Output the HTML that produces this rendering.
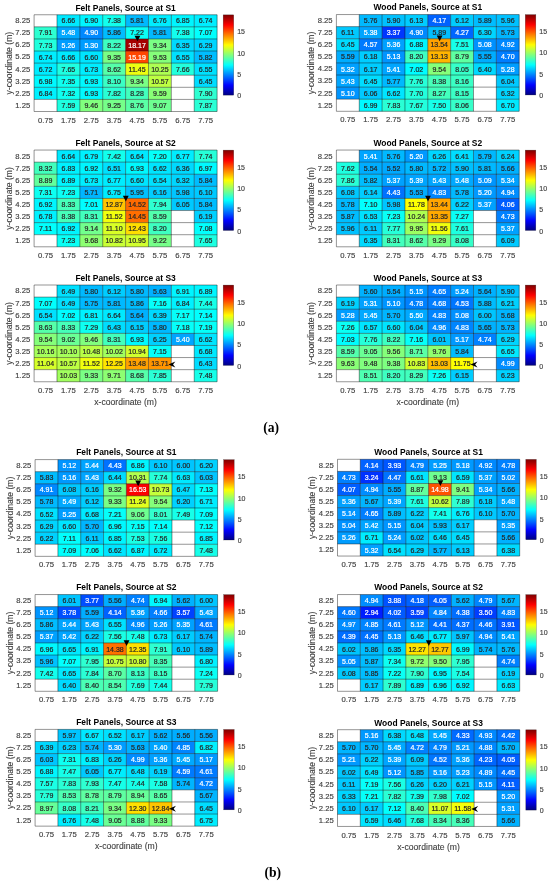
<!DOCTYPE html>
<html lang="en"><head><meta charset="utf-8"><title>Heatmaps</title>
<style>
html,body{margin:0;padding:0;background:#fff;}
body{width:550px;height:883px;overflow:hidden;}
svg{display:block;font-family:"Liberation Sans",Arial,sans-serif;}
.t{font-size:7.7px;fill:#404040;stroke:#404040;stroke-width:.15px;}
.c{font-size:7.0px;text-anchor:middle;fill:#262626;stroke:#262626;stroke-width:.2px;}
.w{fill:#fff;stroke:#fff;}
.ti{font-size:8.45px;font-weight:bold;text-anchor:middle;fill:#000;}
.lb{font-size:8.6px;text-anchor:middle;fill:#404040;stroke:#404040;stroke-width:.12px;}
.cap{font-family:"Liberation Serif","DejaVu Serif",serif;font-size:13.6px;font-weight:bold;text-anchor:middle;fill:#000;}
.g{stroke:#000;stroke-opacity:.6;stroke-width:.7;fill:none;}
</style></head><body>
<svg width="550" height="883" viewBox="0 0 550 883">
<defs><linearGradient id="jet" x1="0" y1="0" x2="0" y2="1"><stop offset="0.0000" stop-color="#810000"/><stop offset="0.0312" stop-color="#9d0000"/><stop offset="0.0625" stop-color="#bd0000"/><stop offset="0.0938" stop-color="#dd0000"/><stop offset="0.1250" stop-color="#fd0000"/><stop offset="0.1562" stop-color="#ff1e00"/><stop offset="0.1875" stop-color="#ff3e00"/><stop offset="0.2188" stop-color="#ff5e00"/><stop offset="0.2500" stop-color="#ff7e00"/><stop offset="0.2812" stop-color="#ff9d00"/><stop offset="0.3125" stop-color="#ffbd00"/><stop offset="0.3438" stop-color="#ffdd00"/><stop offset="0.3750" stop-color="#fffd00"/><stop offset="0.4062" stop-color="#e1ff1e"/><stop offset="0.4375" stop-color="#c1ff3e"/><stop offset="0.4688" stop-color="#a1ff5e"/><stop offset="0.5000" stop-color="#81ff7e"/><stop offset="0.5312" stop-color="#62ff9d"/><stop offset="0.5625" stop-color="#42ffbd"/><stop offset="0.5938" stop-color="#22ffdd"/><stop offset="0.6250" stop-color="#02fffd"/><stop offset="0.6562" stop-color="#00e1ff"/><stop offset="0.6875" stop-color="#00c1ff"/><stop offset="0.7188" stop-color="#00a1ff"/><stop offset="0.7500" stop-color="#0081ff"/><stop offset="0.7812" stop-color="#0062ff"/><stop offset="0.8125" stop-color="#0042ff"/><stop offset="0.8438" stop-color="#0022ff"/><stop offset="0.8750" stop-color="#0002ff"/><stop offset="0.9062" stop-color="#0000e1"/><stop offset="0.9375" stop-color="#0000c1"/><stop offset="0.9688" stop-color="#0000a1"/><stop offset="1.0000" stop-color="#000081"/></linearGradient></defs>
<g>
<text class="ti" x="125.6" y="10.55">Felt Panels, Source at S1</text>
<rect x="34.1" y="14.75" width="22.93" height="12.14" fill="#ffffff"/>
<rect x="56.98" y="14.75" width="22.93" height="12.14" fill="#00e9ff"/>
<rect x="79.85" y="14.75" width="22.93" height="12.14" fill="#00f5ff"/>
<rect x="102.72" y="14.75" width="22.93" height="12.14" fill="#12ffed"/>
<rect x="125.6" y="14.75" width="22.93" height="12.14" fill="#00b9ff"/>
<rect x="148.47" y="14.75" width="22.93" height="12.14" fill="#00edff"/>
<rect x="171.35" y="14.75" width="22.93" height="12.14" fill="#00f5ff"/>
<rect x="194.22" y="14.75" width="22.93" height="12.14" fill="#00edff"/>
<rect x="34.1" y="26.84" width="22.93" height="12.14" fill="#2effd1"/>
<rect x="56.98" y="26.84" width="22.93" height="12.14" fill="#00a9ff"/>
<rect x="79.85" y="26.84" width="22.93" height="12.14" fill="#0089ff"/>
<rect x="102.72" y="26.84" width="22.93" height="12.14" fill="#00bdff"/>
<rect x="125.6" y="26.84" width="22.93" height="12.14" fill="#0afff5"/>
<rect x="148.47" y="26.84" width="22.93" height="12.14" fill="#00b9ff"/>
<rect x="171.35" y="26.84" width="22.93" height="12.14" fill="#12ffed"/>
<rect x="194.22" y="26.84" width="22.93" height="12.14" fill="#02fffd"/>
<rect x="34.1" y="38.94" width="22.93" height="12.14" fill="#22ffdd"/>
<rect x="56.98" y="38.94" width="22.93" height="12.14" fill="#009dff"/>
<rect x="79.85" y="38.94" width="22.93" height="12.14" fill="#009dff"/>
<rect x="102.72" y="38.94" width="22.93" height="12.14" fill="#3effc1"/>
<rect x="125.6" y="38.94" width="22.93" height="12.14" fill="#a50000"/>
<rect x="148.47" y="38.94" width="22.93" height="12.14" fill="#7aff85"/>
<rect x="171.35" y="38.94" width="22.93" height="12.14" fill="#00d9ff"/>
<rect x="194.22" y="38.94" width="22.93" height="12.14" fill="#00d5ff"/>
<rect x="34.1" y="51.03" width="22.93" height="12.14" fill="#00edff"/>
<rect x="56.98" y="51.03" width="22.93" height="12.14" fill="#00e9ff"/>
<rect x="79.85" y="51.03" width="22.93" height="12.14" fill="#00e5ff"/>
<rect x="102.72" y="51.03" width="22.93" height="12.14" fill="#7aff85"/>
<rect x="125.6" y="51.03" width="22.93" height="12.14" fill="#ff4600"/>
<rect x="148.47" y="51.03" width="22.93" height="12.14" fill="#85ff7a"/>
<rect x="171.35" y="51.03" width="22.93" height="12.14" fill="#00e1ff"/>
<rect x="194.22" y="51.03" width="22.93" height="12.14" fill="#00bdff"/>
<rect x="34.1" y="63.12" width="22.93" height="12.14" fill="#00edff"/>
<rect x="56.98" y="63.12" width="22.93" height="12.14" fill="#1effe1"/>
<rect x="79.85" y="63.12" width="22.93" height="12.14" fill="#00edff"/>
<rect x="102.72" y="63.12" width="22.93" height="12.14" fill="#56ffa9"/>
<rect x="125.6" y="63.12" width="22.93" height="12.14" fill="#edff12"/>
<rect x="148.47" y="63.12" width="22.93" height="12.14" fill="#adff52"/>
<rect x="171.35" y="63.12" width="22.93" height="12.14" fill="#22ffdd"/>
<rect x="194.22" y="63.12" width="22.93" height="12.14" fill="#00e1ff"/>
<rect x="34.1" y="75.22" width="22.93" height="12.14" fill="#00f9ff"/>
<rect x="56.98" y="75.22" width="22.93" height="12.14" fill="#0efff1"/>
<rect x="79.85" y="75.22" width="22.93" height="12.14" fill="#00f9ff"/>
<rect x="102.72" y="75.22" width="22.93" height="12.14" fill="#3affc5"/>
<rect x="125.6" y="75.22" width="22.93" height="12.14" fill="#7aff85"/>
<rect x="148.47" y="75.22" width="22.93" height="12.14" fill="#bdff42"/>
<rect x="171.35" y="75.22" width="22.93" height="12.14" fill="#ffffff"/>
<rect x="194.22" y="75.22" width="22.93" height="12.14" fill="#00ddff"/>
<rect x="34.1" y="87.31" width="22.93" height="12.14" fill="#00f1ff"/>
<rect x="56.98" y="87.31" width="22.93" height="12.14" fill="#0efff1"/>
<rect x="79.85" y="87.31" width="22.93" height="12.14" fill="#00f9ff"/>
<rect x="102.72" y="87.31" width="22.93" height="12.14" fill="#2affd5"/>
<rect x="125.6" y="87.31" width="22.93" height="12.14" fill="#42ffbd"/>
<rect x="148.47" y="87.31" width="22.93" height="12.14" fill="#89ff76"/>
<rect x="171.35" y="87.31" width="22.93" height="12.14" fill="#ffffff"/>
<rect x="194.22" y="87.31" width="22.93" height="12.14" fill="#2effd1"/>
<rect x="34.1" y="99.41" width="22.93" height="12.14" fill="#ffffff"/>
<rect x="56.98" y="99.41" width="22.93" height="12.14" fill="#1effe1"/>
<rect x="79.85" y="99.41" width="22.93" height="12.14" fill="#81ff7e"/>
<rect x="102.72" y="99.41" width="22.93" height="12.14" fill="#76ff89"/>
<rect x="125.6" y="99.41" width="22.93" height="12.14" fill="#5affa5"/>
<rect x="148.47" y="99.41" width="22.93" height="12.14" fill="#6eff91"/>
<rect x="171.35" y="99.41" width="22.93" height="12.14" fill="#ffffff"/>
<rect x="194.22" y="99.41" width="22.93" height="12.14" fill="#2affd5"/>
<path class="g" d="M34.1 14.75V111.5M56.98 14.75V111.5M79.85 14.75V111.5M102.72 14.75V111.5M125.6 14.75V111.5M148.47 14.75V111.5M171.35 14.75V111.5M194.22 14.75V111.5M217.1 14.75V111.5M34.1 14.75H217.1M34.1 26.84H217.1M34.1 38.94H217.1M34.1 51.03H217.1M34.1 63.12H217.1M34.1 75.22H217.1M34.1 87.31H217.1M34.1 99.41H217.1M34.1 111.5H217.1"/>
<text class="c" x="68.41" y="23.35">6.66</text>
<text class="c" x="91.29" y="23.35">6.90</text>
<text class="c" x="114.16" y="23.35">7.38</text>
<text class="c" x="137.04" y="23.35">5.81</text>
<text class="c" x="159.91" y="23.35">6.76</text>
<text class="c" x="182.79" y="23.35">6.85</text>
<text class="c" x="205.66" y="23.35">6.74</text>
<text class="c" x="45.54" y="35.44">7.91</text>
<text class="c w" x="68.41" y="35.44">5.48</text>
<text class="c w" x="91.29" y="35.44">4.90</text>
<text class="c" x="114.16" y="35.44">5.86</text>
<text class="c" x="137.04" y="35.44">7.22</text>
<text class="c" x="159.91" y="35.44">5.81</text>
<text class="c" x="182.79" y="35.44">7.38</text>
<text class="c" x="205.66" y="35.44">7.07</text>
<text class="c" x="45.54" y="47.53">7.73</text>
<text class="c w" x="68.41" y="47.53">5.26</text>
<text class="c w" x="91.29" y="47.53">5.30</text>
<text class="c" x="114.16" y="47.53">8.22</text>
<text class="c w" x="137.04" y="47.53">18.17</text>
<text class="c" x="159.91" y="47.53">9.34</text>
<text class="c" x="182.79" y="47.53">6.35</text>
<text class="c" x="205.66" y="47.53">6.29</text>
<text class="c" x="45.54" y="59.63">6.74</text>
<text class="c" x="68.41" y="59.63">6.66</text>
<text class="c" x="91.29" y="59.63">6.60</text>
<text class="c" x="114.16" y="59.63">9.35</text>
<text class="c w" x="137.04" y="59.63">15.19</text>
<text class="c" x="159.91" y="59.63">9.53</text>
<text class="c" x="182.79" y="59.63">6.55</text>
<text class="c" x="205.66" y="59.63">5.82</text>
<text class="c" x="45.54" y="71.72">6.72</text>
<text class="c" x="68.41" y="71.72">7.65</text>
<text class="c" x="91.29" y="71.72">6.73</text>
<text class="c" x="114.16" y="71.72">8.62</text>
<text class="c" x="137.04" y="71.72">11.45</text>
<text class="c" x="159.91" y="71.72">10.25</text>
<text class="c" x="182.79" y="71.72">7.66</text>
<text class="c" x="205.66" y="71.72">6.55</text>
<text class="c" x="45.54" y="83.82">6.98</text>
<text class="c" x="68.41" y="83.82">7.35</text>
<text class="c" x="91.29" y="83.82">6.93</text>
<text class="c" x="114.16" y="83.82">8.10</text>
<text class="c" x="137.04" y="83.82">9.34</text>
<text class="c" x="159.91" y="83.82">10.57</text>
<text class="c" x="205.66" y="83.82">6.45</text>
<text class="c" x="45.54" y="95.91">6.84</text>
<text class="c" x="68.41" y="95.91">7.32</text>
<text class="c" x="91.29" y="95.91">6.93</text>
<text class="c" x="114.16" y="95.91">7.82</text>
<text class="c" x="137.04" y="95.91">8.28</text>
<text class="c" x="159.91" y="95.91">9.59</text>
<text class="c" x="205.66" y="95.91">7.90</text>
<text class="c" x="68.41" y="108">7.59</text>
<text class="c" x="91.29" y="108">9.46</text>
<text class="c" x="114.16" y="108">9.25</text>
<text class="c" x="137.04" y="108">8.76</text>
<text class="c" x="159.91" y="108">9.07</text>
<text class="c" x="205.66" y="108">7.87</text>
<text class="t" text-anchor="end" x="30.3" y="23.2">8.25</text>
<text class="t" text-anchor="end" x="30.3" y="35.29">7.25</text>
<text class="t" text-anchor="end" x="30.3" y="47.38">6.25</text>
<text class="t" text-anchor="end" x="30.3" y="59.48">5.25</text>
<text class="t" text-anchor="end" x="30.3" y="71.57">4.25</text>
<text class="t" text-anchor="end" x="30.3" y="83.67">3.25</text>
<text class="t" text-anchor="end" x="30.3" y="95.76">2.25</text>
<text class="t" text-anchor="end" x="30.3" y="107.85">1.25</text>
<text class="t" text-anchor="middle" x="45.54" y="122.6">0.75</text>
<text class="t" text-anchor="middle" x="68.41" y="122.6">1.75</text>
<text class="t" text-anchor="middle" x="91.29" y="122.6">2.75</text>
<text class="t" text-anchor="middle" x="114.16" y="122.6">3.75</text>
<text class="t" text-anchor="middle" x="137.04" y="122.6">4.75</text>
<text class="t" text-anchor="middle" x="159.91" y="122.6">5.75</text>
<text class="t" text-anchor="middle" x="182.79" y="122.6">6.75</text>
<text class="t" text-anchor="middle" x="205.66" y="122.6">7.75</text>
<text class="lb" transform="translate(11.5 63.12) rotate(-90)">y-coordinate (m)</text>
<path d="M134.54 35.64L140.34 35.64L137.44 41.34Z" fill="#000"/>
<rect x="223.2" y="14.85" width="10.5" height="80.3" fill="url(#jet)" stroke="#000" stroke-opacity=".45" stroke-width=".5"/>
<text class="t" style="font-size:7px" x="237.2" y="98.25">0</text>
<text class="t" style="font-size:7px" x="237.2" y="76.95">5</text>
<text class="t" style="font-size:7px" x="237.2" y="55.65">10</text>
<text class="t" style="font-size:7px" x="237.2" y="34.35">15</text>
</g>
<g>
<text class="ti" x="427.8" y="10.35">Wood Panels, Source at S1</text>
<rect x="336.4" y="14.55" width="22.9" height="12.14" fill="#ffffff"/>
<rect x="359.25" y="14.55" width="22.9" height="12.14" fill="#00b9ff"/>
<rect x="382.1" y="14.55" width="22.9" height="12.14" fill="#00c1ff"/>
<rect x="404.95" y="14.55" width="22.9" height="12.14" fill="#00cdff"/>
<rect x="427.8" y="14.55" width="22.9" height="12.14" fill="#0062ff"/>
<rect x="450.65" y="14.55" width="22.9" height="12.14" fill="#00cdff"/>
<rect x="473.5" y="14.55" width="22.9" height="12.14" fill="#00bdff"/>
<rect x="496.35" y="14.55" width="22.9" height="12.14" fill="#00c1ff"/>
<rect x="336.4" y="26.64" width="22.9" height="12.14" fill="#00c9ff"/>
<rect x="359.25" y="26.64" width="22.9" height="12.14" fill="#00a5ff"/>
<rect x="382.1" y="26.64" width="22.9" height="12.14" fill="#0036ff"/>
<rect x="404.95" y="26.64" width="22.9" height="12.14" fill="#0089ff"/>
<rect x="427.8" y="26.64" width="22.9" height="12.14" fill="#00bdff"/>
<rect x="450.65" y="26.64" width="22.9" height="12.14" fill="#0066ff"/>
<rect x="473.5" y="26.64" width="22.9" height="12.14" fill="#00d5ff"/>
<rect x="496.35" y="26.64" width="22.9" height="12.14" fill="#00b5ff"/>
<rect x="336.4" y="38.74" width="22.9" height="12.14" fill="#00ddff"/>
<rect x="359.25" y="38.74" width="22.9" height="12.14" fill="#007aff"/>
<rect x="382.1" y="38.74" width="22.9" height="12.14" fill="#00a1ff"/>
<rect x="404.95" y="38.74" width="22.9" height="12.14" fill="#00f5ff"/>
<rect x="427.8" y="38.74" width="22.9" height="12.14" fill="#ffa100"/>
<rect x="450.65" y="38.74" width="22.9" height="12.14" fill="#16ffe9"/>
<rect x="473.5" y="38.74" width="22.9" height="12.14" fill="#0091ff"/>
<rect x="496.35" y="38.74" width="22.9" height="12.14" fill="#0089ff"/>
<rect x="336.4" y="50.83" width="22.9" height="12.14" fill="#00adff"/>
<rect x="359.25" y="50.83" width="22.9" height="12.14" fill="#00cdff"/>
<rect x="382.1" y="50.83" width="22.9" height="12.14" fill="#0095ff"/>
<rect x="404.95" y="50.83" width="22.9" height="12.14" fill="#3effc1"/>
<rect x="427.8" y="50.83" width="22.9" height="12.14" fill="#ffb500"/>
<rect x="450.65" y="50.83" width="22.9" height="12.14" fill="#5effa1"/>
<rect x="473.5" y="50.83" width="22.9" height="12.14" fill="#00adff"/>
<rect x="496.35" y="50.83" width="22.9" height="12.14" fill="#007eff"/>
<rect x="336.4" y="62.92" width="22.9" height="12.14" fill="#00a1ff"/>
<rect x="359.25" y="62.92" width="22.9" height="12.14" fill="#00cdff"/>
<rect x="382.1" y="62.92" width="22.9" height="12.14" fill="#00a5ff"/>
<rect x="404.95" y="62.92" width="22.9" height="12.14" fill="#00fdff"/>
<rect x="427.8" y="62.92" width="22.9" height="12.14" fill="#85ff7a"/>
<rect x="450.65" y="62.92" width="22.9" height="12.14" fill="#36ffc9"/>
<rect x="473.5" y="62.92" width="22.9" height="12.14" fill="#00d9ff"/>
<rect x="496.35" y="62.92" width="22.9" height="12.14" fill="#009dff"/>
<rect x="336.4" y="75.02" width="22.9" height="12.14" fill="#00a5ff"/>
<rect x="359.25" y="75.02" width="22.9" height="12.14" fill="#00ddff"/>
<rect x="382.1" y="75.02" width="22.9" height="12.14" fill="#00b9ff"/>
<rect x="404.95" y="75.02" width="22.9" height="12.14" fill="#26ffd9"/>
<rect x="427.8" y="75.02" width="22.9" height="12.14" fill="#46ffb9"/>
<rect x="450.65" y="75.02" width="22.9" height="12.14" fill="#3affc5"/>
<rect x="473.5" y="75.02" width="22.9" height="12.14" fill="#ffffff"/>
<rect x="496.35" y="75.02" width="22.9" height="12.14" fill="#00c9ff"/>
<rect x="336.4" y="87.11" width="22.9" height="12.14" fill="#0095ff"/>
<rect x="359.25" y="87.11" width="22.9" height="12.14" fill="#00c9ff"/>
<rect x="382.1" y="87.11" width="22.9" height="12.14" fill="#00e5ff"/>
<rect x="404.95" y="87.11" width="22.9" height="12.14" fill="#22ffdd"/>
<rect x="427.8" y="87.11" width="22.9" height="12.14" fill="#42ffbd"/>
<rect x="450.65" y="87.11" width="22.9" height="12.14" fill="#3affc5"/>
<rect x="473.5" y="87.11" width="22.9" height="12.14" fill="#ffffff"/>
<rect x="496.35" y="87.11" width="22.9" height="12.14" fill="#00d5ff"/>
<rect x="336.4" y="99.21" width="22.9" height="12.14" fill="#ffffff"/>
<rect x="359.25" y="99.21" width="22.9" height="12.14" fill="#00f9ff"/>
<rect x="382.1" y="99.21" width="22.9" height="12.14" fill="#2affd5"/>
<rect x="404.95" y="99.21" width="22.9" height="12.14" fill="#22ffdd"/>
<rect x="427.8" y="99.21" width="22.9" height="12.14" fill="#16ffe9"/>
<rect x="450.65" y="99.21" width="22.9" height="12.14" fill="#36ffc9"/>
<rect x="473.5" y="99.21" width="22.9" height="12.14" fill="#ffffff"/>
<rect x="496.35" y="99.21" width="22.9" height="12.14" fill="#00e9ff"/>
<path class="g" d="M336.4 14.55V111.3M359.25 14.55V111.3M382.1 14.55V111.3M404.95 14.55V111.3M427.8 14.55V111.3M450.65 14.55V111.3M473.5 14.55V111.3M496.35 14.55V111.3M519.2 14.55V111.3M336.4 14.55H519.2M336.4 26.64H519.2M336.4 38.74H519.2M336.4 50.83H519.2M336.4 62.92H519.2M336.4 75.02H519.2M336.4 87.11H519.2M336.4 99.21H519.2M336.4 111.3H519.2"/>
<text class="c" x="370.67" y="23.15">5.76</text>
<text class="c" x="393.52" y="23.15">5.90</text>
<text class="c" x="416.38" y="23.15">6.13</text>
<text class="c w" x="439.22" y="23.15">4.17</text>
<text class="c" x="462.07" y="23.15">6.12</text>
<text class="c" x="484.92" y="23.15">5.89</text>
<text class="c" x="507.77" y="23.15">5.96</text>
<text class="c" x="347.82" y="35.24">6.11</text>
<text class="c w" x="370.67" y="35.24">5.38</text>
<text class="c w" x="393.52" y="35.24">3.37</text>
<text class="c w" x="416.38" y="35.24">4.90</text>
<text class="c" x="439.22" y="35.24">5.89</text>
<text class="c w" x="462.07" y="35.24">4.27</text>
<text class="c" x="484.92" y="35.24">6.30</text>
<text class="c" x="507.77" y="35.24">5.73</text>
<text class="c" x="347.82" y="47.33">6.45</text>
<text class="c w" x="370.67" y="47.33">4.57</text>
<text class="c w" x="393.52" y="47.33">5.36</text>
<text class="c" x="416.38" y="47.33">6.88</text>
<text class="c" x="439.22" y="47.33">13.54</text>
<text class="c" x="462.07" y="47.33">7.51</text>
<text class="c w" x="484.92" y="47.33">5.08</text>
<text class="c w" x="507.77" y="47.33">4.92</text>
<text class="c" x="347.82" y="59.43">5.59</text>
<text class="c" x="370.67" y="59.43">6.18</text>
<text class="c w" x="393.52" y="59.43">5.13</text>
<text class="c" x="416.38" y="59.43">8.20</text>
<text class="c" x="439.22" y="59.43">13.13</text>
<text class="c" x="462.07" y="59.43">8.79</text>
<text class="c" x="484.92" y="59.43">5.55</text>
<text class="c w" x="507.77" y="59.43">4.70</text>
<text class="c w" x="347.82" y="71.52">5.32</text>
<text class="c" x="370.67" y="71.52">6.17</text>
<text class="c w" x="393.52" y="71.52">5.41</text>
<text class="c" x="416.38" y="71.52">7.02</text>
<text class="c" x="439.22" y="71.52">9.54</text>
<text class="c" x="462.07" y="71.52">8.05</text>
<text class="c" x="484.92" y="71.52">6.40</text>
<text class="c w" x="507.77" y="71.52">5.28</text>
<text class="c w" x="347.82" y="83.62">5.43</text>
<text class="c" x="370.67" y="83.62">6.45</text>
<text class="c" x="393.52" y="83.62">5.77</text>
<text class="c" x="416.38" y="83.62">7.76</text>
<text class="c" x="439.22" y="83.62">8.38</text>
<text class="c" x="462.07" y="83.62">8.16</text>
<text class="c" x="507.77" y="83.62">6.04</text>
<text class="c w" x="347.82" y="95.71">5.10</text>
<text class="c" x="370.67" y="95.71">6.06</text>
<text class="c" x="393.52" y="95.71">6.62</text>
<text class="c" x="416.38" y="95.71">7.70</text>
<text class="c" x="439.22" y="95.71">8.27</text>
<text class="c" x="462.07" y="95.71">8.15</text>
<text class="c" x="507.77" y="95.71">6.32</text>
<text class="c" x="370.67" y="107.8">6.99</text>
<text class="c" x="393.52" y="107.8">7.83</text>
<text class="c" x="416.38" y="107.8">7.67</text>
<text class="c" x="439.22" y="107.8">7.50</text>
<text class="c" x="462.07" y="107.8">8.06</text>
<text class="c" x="507.77" y="107.8">6.70</text>
<text class="t" text-anchor="end" x="332.6" y="23">8.25</text>
<text class="t" text-anchor="end" x="332.6" y="35.09">7.25</text>
<text class="t" text-anchor="end" x="332.6" y="47.18">6.25</text>
<text class="t" text-anchor="end" x="332.6" y="59.28">5.25</text>
<text class="t" text-anchor="end" x="332.6" y="71.37">4.25</text>
<text class="t" text-anchor="end" x="332.6" y="83.47">3.25</text>
<text class="t" text-anchor="end" x="332.6" y="95.56">2.25</text>
<text class="t" text-anchor="end" x="332.6" y="107.65">1.25</text>
<text class="t" text-anchor="middle" x="347.82" y="122.4">0.75</text>
<text class="t" text-anchor="middle" x="370.67" y="122.4">1.75</text>
<text class="t" text-anchor="middle" x="393.52" y="122.4">2.75</text>
<text class="t" text-anchor="middle" x="416.38" y="122.4">3.75</text>
<text class="t" text-anchor="middle" x="439.22" y="122.4">4.75</text>
<text class="t" text-anchor="middle" x="462.07" y="122.4">5.75</text>
<text class="t" text-anchor="middle" x="484.92" y="122.4">6.75</text>
<text class="t" text-anchor="middle" x="507.77" y="122.4">7.75</text>
<text class="lb" transform="translate(313.8 62.92) rotate(-90)">y-coordinate (m)</text>
<path d="M436.72 35.44L442.52 35.44L439.62 41.14Z" fill="#000"/>
<rect x="525.3" y="14.65" width="10.5" height="80.3" fill="url(#jet)" stroke="#000" stroke-opacity=".45" stroke-width=".5"/>
<text class="t" style="font-size:7px" x="539.3" y="98.05">0</text>
<text class="t" style="font-size:7px" x="539.3" y="76.75">5</text>
<text class="t" style="font-size:7px" x="539.3" y="55.45">10</text>
<text class="t" style="font-size:7px" x="539.3" y="34.15">15</text>
</g>
<g>
<text class="ti" x="125.6" y="145.85">Felt Panels, Source at S2</text>
<rect x="34.1" y="150.05" width="22.93" height="12.14" fill="#ffffff"/>
<rect x="56.98" y="150.05" width="22.93" height="12.14" fill="#00e9ff"/>
<rect x="79.85" y="150.05" width="22.93" height="12.14" fill="#00f1ff"/>
<rect x="102.72" y="150.05" width="22.93" height="12.14" fill="#12ffed"/>
<rect x="125.6" y="150.05" width="22.93" height="12.14" fill="#00e9ff"/>
<rect x="148.47" y="150.05" width="22.93" height="12.14" fill="#06fff9"/>
<rect x="171.35" y="150.05" width="22.93" height="12.14" fill="#00edff"/>
<rect x="194.22" y="150.05" width="22.93" height="12.14" fill="#26ffd9"/>
<rect x="34.1" y="162.14" width="22.93" height="12.14" fill="#42ffbd"/>
<rect x="56.98" y="162.14" width="22.93" height="12.14" fill="#00f1ff"/>
<rect x="79.85" y="162.14" width="22.93" height="12.14" fill="#00f5ff"/>
<rect x="102.72" y="162.14" width="22.93" height="12.14" fill="#00e1ff"/>
<rect x="125.6" y="162.14" width="22.93" height="12.14" fill="#00f9ff"/>
<rect x="148.47" y="162.14" width="22.93" height="12.14" fill="#00e5ff"/>
<rect x="171.35" y="162.14" width="22.93" height="12.14" fill="#00d9ff"/>
<rect x="194.22" y="162.14" width="22.93" height="12.14" fill="#00f9ff"/>
<rect x="34.1" y="174.24" width="22.93" height="12.14" fill="#62ff9d"/>
<rect x="56.98" y="174.24" width="22.93" height="12.14" fill="#00f5ff"/>
<rect x="79.85" y="174.24" width="22.93" height="12.14" fill="#00edff"/>
<rect x="102.72" y="174.24" width="22.93" height="12.14" fill="#00edff"/>
<rect x="125.6" y="174.24" width="22.93" height="12.14" fill="#00e5ff"/>
<rect x="148.47" y="174.24" width="22.93" height="12.14" fill="#00e1ff"/>
<rect x="171.35" y="174.24" width="22.93" height="12.14" fill="#00d5ff"/>
<rect x="194.22" y="174.24" width="22.93" height="12.14" fill="#00bdff"/>
<rect x="34.1" y="186.33" width="22.93" height="12.14" fill="#0efff1"/>
<rect x="56.98" y="186.33" width="22.93" height="12.14" fill="#0afff5"/>
<rect x="79.85" y="186.33" width="22.93" height="12.14" fill="#00b5ff"/>
<rect x="102.72" y="186.33" width="22.93" height="12.14" fill="#00edff"/>
<rect x="125.6" y="186.33" width="22.93" height="12.14" fill="#00c1ff"/>
<rect x="148.47" y="186.33" width="22.93" height="12.14" fill="#00cdff"/>
<rect x="171.35" y="186.33" width="22.93" height="12.14" fill="#00c5ff"/>
<rect x="194.22" y="186.33" width="22.93" height="12.14" fill="#00c9ff"/>
<rect x="34.1" y="198.43" width="22.93" height="12.14" fill="#00f5ff"/>
<rect x="56.98" y="198.43" width="22.93" height="12.14" fill="#46ffb9"/>
<rect x="79.85" y="198.43" width="22.93" height="12.14" fill="#00fdff"/>
<rect x="102.72" y="198.43" width="22.93" height="12.14" fill="#ffc500"/>
<rect x="125.6" y="198.43" width="22.93" height="12.14" fill="#ff6a00"/>
<rect x="148.47" y="198.43" width="22.93" height="12.14" fill="#2effd1"/>
<rect x="171.35" y="198.43" width="22.93" height="12.14" fill="#00c9ff"/>
<rect x="194.22" y="198.43" width="22.93" height="12.14" fill="#00bdff"/>
<rect x="34.1" y="210.52" width="22.93" height="12.14" fill="#00f1ff"/>
<rect x="56.98" y="210.52" width="22.93" height="12.14" fill="#46ffb9"/>
<rect x="79.85" y="210.52" width="22.93" height="12.14" fill="#42ffbd"/>
<rect x="102.72" y="210.52" width="22.93" height="12.14" fill="#f1ff0e"/>
<rect x="125.6" y="210.52" width="22.93" height="12.14" fill="#ff6e00"/>
<rect x="148.47" y="210.52" width="22.93" height="12.14" fill="#52ffad"/>
<rect x="171.35" y="210.52" width="22.93" height="12.14" fill="#ffffff"/>
<rect x="194.22" y="210.52" width="22.93" height="12.14" fill="#00d1ff"/>
<rect x="34.1" y="222.61" width="22.93" height="12.14" fill="#02fffd"/>
<rect x="56.98" y="222.61" width="22.93" height="12.14" fill="#00f5ff"/>
<rect x="79.85" y="222.61" width="22.93" height="12.14" fill="#72ff8d"/>
<rect x="102.72" y="222.61" width="22.93" height="12.14" fill="#d9ff26"/>
<rect x="125.6" y="222.61" width="22.93" height="12.14" fill="#ffdd00"/>
<rect x="148.47" y="222.61" width="22.93" height="12.14" fill="#3effc1"/>
<rect x="171.35" y="222.61" width="22.93" height="12.14" fill="#ffffff"/>
<rect x="194.22" y="222.61" width="22.93" height="12.14" fill="#02fffd"/>
<rect x="34.1" y="234.71" width="22.93" height="12.14" fill="#ffffff"/>
<rect x="56.98" y="234.71" width="22.93" height="12.14" fill="#0afff5"/>
<rect x="79.85" y="234.71" width="22.93" height="12.14" fill="#8dff72"/>
<rect x="102.72" y="234.71" width="22.93" height="12.14" fill="#c9ff36"/>
<rect x="125.6" y="234.71" width="22.93" height="12.14" fill="#d1ff2e"/>
<rect x="148.47" y="234.71" width="22.93" height="12.14" fill="#76ff89"/>
<rect x="171.35" y="234.71" width="22.93" height="12.14" fill="#ffffff"/>
<rect x="194.22" y="234.71" width="22.93" height="12.14" fill="#1effe1"/>
<path class="g" d="M34.1 150.05V246.8M56.98 150.05V246.8M79.85 150.05V246.8M102.72 150.05V246.8M125.6 150.05V246.8M148.47 150.05V246.8M171.35 150.05V246.8M194.22 150.05V246.8M217.1 150.05V246.8M34.1 150.05H217.1M34.1 162.14H217.1M34.1 174.24H217.1M34.1 186.33H217.1M34.1 198.43H217.1M34.1 210.52H217.1M34.1 222.61H217.1M34.1 234.71H217.1M34.1 246.8H217.1"/>
<text class="c" x="68.41" y="158.65">6.64</text>
<text class="c" x="91.29" y="158.65">6.79</text>
<text class="c" x="114.16" y="158.65">7.42</text>
<text class="c" x="137.04" y="158.65">6.64</text>
<text class="c" x="159.91" y="158.65">7.20</text>
<text class="c" x="182.79" y="158.65">6.77</text>
<text class="c" x="205.66" y="158.65">7.74</text>
<text class="c" x="45.54" y="170.74">8.32</text>
<text class="c" x="68.41" y="170.74">6.83</text>
<text class="c" x="91.29" y="170.74">6.92</text>
<text class="c" x="114.16" y="170.74">6.51</text>
<text class="c" x="137.04" y="170.74">6.93</text>
<text class="c" x="159.91" y="170.74">6.62</text>
<text class="c" x="182.79" y="170.74">6.36</text>
<text class="c" x="205.66" y="170.74">6.97</text>
<text class="c" x="45.54" y="182.83">8.89</text>
<text class="c" x="68.41" y="182.83">6.89</text>
<text class="c" x="91.29" y="182.83">6.73</text>
<text class="c" x="114.16" y="182.83">6.77</text>
<text class="c" x="137.04" y="182.83">6.60</text>
<text class="c" x="159.91" y="182.83">6.54</text>
<text class="c" x="182.79" y="182.83">6.32</text>
<text class="c" x="205.66" y="182.83">5.84</text>
<text class="c" x="45.54" y="194.93">7.31</text>
<text class="c" x="68.41" y="194.93">7.23</text>
<text class="c" x="91.29" y="194.93">5.71</text>
<text class="c" x="114.16" y="194.93">6.75</text>
<text class="c" x="137.04" y="194.93">5.95</text>
<text class="c" x="159.91" y="194.93">6.16</text>
<text class="c" x="182.79" y="194.93">5.98</text>
<text class="c" x="205.66" y="194.93">6.10</text>
<text class="c" x="45.54" y="207.02">6.92</text>
<text class="c" x="68.41" y="207.02">8.33</text>
<text class="c" x="91.29" y="207.02">7.01</text>
<text class="c" x="114.16" y="207.02">12.87</text>
<text class="c" x="137.04" y="207.02">14.52</text>
<text class="c" x="159.91" y="207.02">7.94</text>
<text class="c" x="182.79" y="207.02">6.05</text>
<text class="c" x="205.66" y="207.02">5.84</text>
<text class="c" x="45.54" y="219.12">6.78</text>
<text class="c" x="68.41" y="219.12">8.38</text>
<text class="c" x="91.29" y="219.12">8.31</text>
<text class="c" x="114.16" y="219.12">11.52</text>
<text class="c" x="137.04" y="219.12">14.45</text>
<text class="c" x="159.91" y="219.12">8.59</text>
<text class="c" x="205.66" y="219.12">6.19</text>
<text class="c" x="45.54" y="231.21">7.11</text>
<text class="c" x="68.41" y="231.21">6.92</text>
<text class="c" x="91.29" y="231.21">9.14</text>
<text class="c" x="114.16" y="231.21">11.10</text>
<text class="c" x="137.04" y="231.21">12.43</text>
<text class="c" x="159.91" y="231.21">8.20</text>
<text class="c" x="205.66" y="231.21">7.08</text>
<text class="c" x="68.41" y="243.3">7.23</text>
<text class="c" x="91.29" y="243.3">9.68</text>
<text class="c" x="114.16" y="243.3">10.82</text>
<text class="c" x="137.04" y="243.3">10.95</text>
<text class="c" x="159.91" y="243.3">9.22</text>
<text class="c" x="205.66" y="243.3">7.65</text>
<text class="t" text-anchor="end" x="30.3" y="158.5">8.25</text>
<text class="t" text-anchor="end" x="30.3" y="170.59">7.25</text>
<text class="t" text-anchor="end" x="30.3" y="182.68">6.25</text>
<text class="t" text-anchor="end" x="30.3" y="194.78">5.25</text>
<text class="t" text-anchor="end" x="30.3" y="206.87">4.25</text>
<text class="t" text-anchor="end" x="30.3" y="218.97">3.25</text>
<text class="t" text-anchor="end" x="30.3" y="231.06">2.25</text>
<text class="t" text-anchor="end" x="30.3" y="243.15">1.25</text>
<text class="t" text-anchor="middle" x="45.54" y="257.9">0.75</text>
<text class="t" text-anchor="middle" x="68.41" y="257.9">1.75</text>
<text class="t" text-anchor="middle" x="91.29" y="257.9">2.75</text>
<text class="t" text-anchor="middle" x="114.16" y="257.9">3.75</text>
<text class="t" text-anchor="middle" x="137.04" y="257.9">4.75</text>
<text class="t" text-anchor="middle" x="159.91" y="257.9">5.75</text>
<text class="t" text-anchor="middle" x="182.79" y="257.9">6.75</text>
<text class="t" text-anchor="middle" x="205.66" y="257.9">7.75</text>
<text class="lb" transform="translate(11.5 198.43) rotate(-90)">y-coordinate (m)</text>
<path d="M122.9 195.82L128.7 195.82L125.8 201.53Z" fill="#000"/>
<rect x="223.2" y="150.15" width="10.5" height="80.3" fill="url(#jet)" stroke="#000" stroke-opacity=".45" stroke-width=".5"/>
<text class="t" style="font-size:7px" x="237.2" y="233.55">0</text>
<text class="t" style="font-size:7px" x="237.2" y="212.25">5</text>
<text class="t" style="font-size:7px" x="237.2" y="190.95">10</text>
<text class="t" style="font-size:7px" x="237.2" y="169.65">15</text>
</g>
<g>
<text class="ti" x="427.8" y="145.85">Wood Panels, Source at S2</text>
<rect x="336.4" y="150.05" width="22.9" height="12.14" fill="#ffffff"/>
<rect x="359.25" y="150.05" width="22.9" height="12.14" fill="#00a5ff"/>
<rect x="382.1" y="150.05" width="22.9" height="12.14" fill="#00b9ff"/>
<rect x="404.95" y="150.05" width="22.9" height="12.14" fill="#0099ff"/>
<rect x="427.8" y="150.05" width="22.9" height="12.14" fill="#00d5ff"/>
<rect x="450.65" y="150.05" width="22.9" height="12.14" fill="#00ddff"/>
<rect x="473.5" y="150.05" width="22.9" height="12.14" fill="#00b9ff"/>
<rect x="496.35" y="150.05" width="22.9" height="12.14" fill="#00d1ff"/>
<rect x="336.4" y="162.14" width="22.9" height="12.14" fill="#1effe1"/>
<rect x="359.25" y="162.14" width="22.9" height="12.14" fill="#00adff"/>
<rect x="382.1" y="162.14" width="22.9" height="12.14" fill="#00a9ff"/>
<rect x="404.95" y="162.14" width="22.9" height="12.14" fill="#00b9ff"/>
<rect x="427.8" y="162.14" width="22.9" height="12.14" fill="#00b5ff"/>
<rect x="450.65" y="162.14" width="22.9" height="12.14" fill="#00c1ff"/>
<rect x="473.5" y="162.14" width="22.9" height="12.14" fill="#00b9ff"/>
<rect x="496.35" y="162.14" width="22.9" height="12.14" fill="#00b1ff"/>
<rect x="336.4" y="174.24" width="22.9" height="12.14" fill="#2affd5"/>
<rect x="359.25" y="174.24" width="22.9" height="12.14" fill="#00bdff"/>
<rect x="382.1" y="174.24" width="22.9" height="12.14" fill="#00a1ff"/>
<rect x="404.95" y="174.24" width="22.9" height="12.14" fill="#00a5ff"/>
<rect x="427.8" y="174.24" width="22.9" height="12.14" fill="#00a5ff"/>
<rect x="450.65" y="174.24" width="22.9" height="12.14" fill="#00a9ff"/>
<rect x="473.5" y="174.24" width="22.9" height="12.14" fill="#0095ff"/>
<rect x="496.35" y="174.24" width="22.9" height="12.14" fill="#00a1ff"/>
<rect x="336.4" y="186.33" width="22.9" height="12.14" fill="#00c9ff"/>
<rect x="359.25" y="186.33" width="22.9" height="12.14" fill="#00cdff"/>
<rect x="382.1" y="186.33" width="22.9" height="12.14" fill="#0072ff"/>
<rect x="404.95" y="186.33" width="22.9" height="12.14" fill="#00adff"/>
<rect x="427.8" y="186.33" width="22.9" height="12.14" fill="#0085ff"/>
<rect x="450.65" y="186.33" width="22.9" height="12.14" fill="#00b9ff"/>
<rect x="473.5" y="186.33" width="22.9" height="12.14" fill="#0099ff"/>
<rect x="496.35" y="186.33" width="22.9" height="12.14" fill="#008dff"/>
<rect x="336.4" y="198.43" width="22.9" height="12.14" fill="#00b9ff"/>
<rect x="359.25" y="198.43" width="22.9" height="12.14" fill="#02fffd"/>
<rect x="382.1" y="198.43" width="22.9" height="12.14" fill="#00c5ff"/>
<rect x="404.95" y="198.43" width="22.9" height="12.14" fill="#fdff02"/>
<rect x="427.8" y="198.43" width="22.9" height="12.14" fill="#ffa500"/>
<rect x="450.65" y="198.43" width="22.9" height="12.14" fill="#00d1ff"/>
<rect x="473.5" y="198.43" width="22.9" height="12.14" fill="#00a1ff"/>
<rect x="496.35" y="198.43" width="22.9" height="12.14" fill="#005eff"/>
<rect x="336.4" y="210.52" width="22.9" height="12.14" fill="#00bdff"/>
<rect x="359.25" y="210.52" width="22.9" height="12.14" fill="#00e1ff"/>
<rect x="382.1" y="210.52" width="22.9" height="12.14" fill="#0afff5"/>
<rect x="404.95" y="210.52" width="22.9" height="12.14" fill="#adff52"/>
<rect x="427.8" y="210.52" width="22.9" height="12.14" fill="#ffa900"/>
<rect x="450.65" y="210.52" width="22.9" height="12.14" fill="#0afff5"/>
<rect x="473.5" y="210.52" width="22.9" height="12.14" fill="#ffffff"/>
<rect x="496.35" y="210.52" width="22.9" height="12.14" fill="#0081ff"/>
<rect x="336.4" y="222.61" width="22.9" height="12.14" fill="#00c1ff"/>
<rect x="359.25" y="222.61" width="22.9" height="12.14" fill="#00c9ff"/>
<rect x="382.1" y="222.61" width="22.9" height="12.14" fill="#26ffd9"/>
<rect x="404.95" y="222.61" width="22.9" height="12.14" fill="#9dff62"/>
<rect x="427.8" y="222.61" width="22.9" height="12.14" fill="#f1ff0e"/>
<rect x="450.65" y="222.61" width="22.9" height="12.14" fill="#1effe1"/>
<rect x="473.5" y="222.61" width="22.9" height="12.14" fill="#ffffff"/>
<rect x="496.35" y="222.61" width="22.9" height="12.14" fill="#00a1ff"/>
<rect x="336.4" y="234.71" width="22.9" height="12.14" fill="#ffffff"/>
<rect x="359.25" y="234.71" width="22.9" height="12.14" fill="#00d9ff"/>
<rect x="382.1" y="234.71" width="22.9" height="12.14" fill="#42ffbd"/>
<rect x="404.95" y="234.71" width="22.9" height="12.14" fill="#56ffa9"/>
<rect x="427.8" y="234.71" width="22.9" height="12.14" fill="#7aff85"/>
<rect x="450.65" y="234.71" width="22.9" height="12.14" fill="#36ffc9"/>
<rect x="473.5" y="234.71" width="22.9" height="12.14" fill="#ffffff"/>
<rect x="496.35" y="234.71" width="22.9" height="12.14" fill="#00c9ff"/>
<path class="g" d="M336.4 150.05V246.8M359.25 150.05V246.8M382.1 150.05V246.8M404.95 150.05V246.8M427.8 150.05V246.8M450.65 150.05V246.8M473.5 150.05V246.8M496.35 150.05V246.8M519.2 150.05V246.8M336.4 150.05H519.2M336.4 162.14H519.2M336.4 174.24H519.2M336.4 186.33H519.2M336.4 198.43H519.2M336.4 210.52H519.2M336.4 222.61H519.2M336.4 234.71H519.2M336.4 246.8H519.2"/>
<text class="c w" x="370.67" y="158.65">5.41</text>
<text class="c" x="393.52" y="158.65">5.76</text>
<text class="c w" x="416.38" y="158.65">5.20</text>
<text class="c" x="439.22" y="158.65">6.26</text>
<text class="c" x="462.07" y="158.65">6.41</text>
<text class="c" x="484.92" y="158.65">5.79</text>
<text class="c" x="507.77" y="158.65">6.24</text>
<text class="c" x="347.82" y="170.74">7.62</text>
<text class="c" x="370.67" y="170.74">5.54</text>
<text class="c" x="393.52" y="170.74">5.52</text>
<text class="c" x="416.38" y="170.74">5.80</text>
<text class="c" x="439.22" y="170.74">5.72</text>
<text class="c" x="462.07" y="170.74">5.90</text>
<text class="c" x="484.92" y="170.74">5.81</text>
<text class="c" x="507.77" y="170.74">5.66</text>
<text class="c" x="347.82" y="182.83">7.86</text>
<text class="c" x="370.67" y="182.83">5.82</text>
<text class="c w" x="393.52" y="182.83">5.37</text>
<text class="c w" x="416.38" y="182.83">5.39</text>
<text class="c w" x="439.22" y="182.83">5.43</text>
<text class="c w" x="462.07" y="182.83">5.48</text>
<text class="c w" x="484.92" y="182.83">5.09</text>
<text class="c w" x="507.77" y="182.83">5.34</text>
<text class="c" x="347.82" y="194.93">6.08</text>
<text class="c" x="370.67" y="194.93">6.14</text>
<text class="c w" x="393.52" y="194.93">4.43</text>
<text class="c" x="416.38" y="194.93">5.53</text>
<text class="c w" x="439.22" y="194.93">4.83</text>
<text class="c" x="462.07" y="194.93">5.78</text>
<text class="c w" x="484.92" y="194.93">5.20</text>
<text class="c w" x="507.77" y="194.93">4.94</text>
<text class="c" x="347.82" y="207.02">5.78</text>
<text class="c" x="370.67" y="207.02">7.10</text>
<text class="c" x="393.52" y="207.02">5.98</text>
<text class="c" x="416.38" y="207.02">11.78</text>
<text class="c" x="439.22" y="207.02">13.44</text>
<text class="c" x="462.07" y="207.02">6.22</text>
<text class="c w" x="484.92" y="207.02">5.37</text>
<text class="c w" x="507.77" y="207.02">4.06</text>
<text class="c" x="347.82" y="219.12">5.87</text>
<text class="c" x="370.67" y="219.12">6.53</text>
<text class="c" x="393.52" y="219.12">7.23</text>
<text class="c" x="416.38" y="219.12">10.24</text>
<text class="c" x="439.22" y="219.12">13.35</text>
<text class="c" x="462.07" y="219.12">7.27</text>
<text class="c w" x="507.77" y="219.12">4.73</text>
<text class="c" x="347.82" y="231.21">5.96</text>
<text class="c" x="370.67" y="231.21">6.11</text>
<text class="c" x="393.52" y="231.21">7.77</text>
<text class="c" x="416.38" y="231.21">9.95</text>
<text class="c" x="439.22" y="231.21">11.56</text>
<text class="c" x="462.07" y="231.21">7.61</text>
<text class="c w" x="507.77" y="231.21">5.37</text>
<text class="c" x="370.67" y="243.3">6.35</text>
<text class="c" x="393.52" y="243.3">8.31</text>
<text class="c" x="416.38" y="243.3">8.62</text>
<text class="c" x="439.22" y="243.3">9.29</text>
<text class="c" x="462.07" y="243.3">8.08</text>
<text class="c" x="507.77" y="243.3">6.09</text>
<text class="t" text-anchor="end" x="332.6" y="158.5">8.25</text>
<text class="t" text-anchor="end" x="332.6" y="170.59">7.25</text>
<text class="t" text-anchor="end" x="332.6" y="182.68">6.25</text>
<text class="t" text-anchor="end" x="332.6" y="194.78">5.25</text>
<text class="t" text-anchor="end" x="332.6" y="206.87">4.25</text>
<text class="t" text-anchor="end" x="332.6" y="218.97">3.25</text>
<text class="t" text-anchor="end" x="332.6" y="231.06">2.25</text>
<text class="t" text-anchor="end" x="332.6" y="243.15">1.25</text>
<text class="t" text-anchor="middle" x="347.82" y="257.9">0.75</text>
<text class="t" text-anchor="middle" x="370.67" y="257.9">1.75</text>
<text class="t" text-anchor="middle" x="393.52" y="257.9">2.75</text>
<text class="t" text-anchor="middle" x="416.38" y="257.9">3.75</text>
<text class="t" text-anchor="middle" x="439.22" y="257.9">4.75</text>
<text class="t" text-anchor="middle" x="462.07" y="257.9">5.75</text>
<text class="t" text-anchor="middle" x="484.92" y="257.9">6.75</text>
<text class="t" text-anchor="middle" x="507.77" y="257.9">7.75</text>
<text class="lb" transform="translate(313.8 198.43) rotate(-90)">y-coordinate (m)</text>
<path d="M425.1 195.82L430.9 195.82L428 201.53Z" fill="#000"/>
<rect x="525.3" y="150.15" width="10.5" height="80.3" fill="url(#jet)" stroke="#000" stroke-opacity=".45" stroke-width=".5"/>
<text class="t" style="font-size:7px" x="539.3" y="233.55">0</text>
<text class="t" style="font-size:7px" x="539.3" y="212.25">5</text>
<text class="t" style="font-size:7px" x="539.3" y="190.95">10</text>
<text class="t" style="font-size:7px" x="539.3" y="169.65">15</text>
</g>
<g>
<text class="ti" x="125.6" y="280.8">Felt Panels, Source at S3</text>
<rect x="34.1" y="285" width="22.93" height="12.14" fill="#ffffff"/>
<rect x="56.98" y="285" width="22.93" height="12.14" fill="#00e1ff"/>
<rect x="79.85" y="285" width="22.93" height="12.14" fill="#00b9ff"/>
<rect x="102.72" y="285" width="22.93" height="12.14" fill="#00cdff"/>
<rect x="125.6" y="285" width="22.93" height="12.14" fill="#00b9ff"/>
<rect x="148.47" y="285" width="22.93" height="12.14" fill="#00b1ff"/>
<rect x="171.35" y="285" width="22.93" height="12.14" fill="#00f5ff"/>
<rect x="194.22" y="285" width="22.93" height="12.14" fill="#00f5ff"/>
<rect x="34.1" y="297.09" width="22.93" height="12.14" fill="#02fffd"/>
<rect x="56.98" y="297.09" width="22.93" height="12.14" fill="#00e1ff"/>
<rect x="79.85" y="297.09" width="22.93" height="12.14" fill="#00b9ff"/>
<rect x="102.72" y="297.09" width="22.93" height="12.14" fill="#00b9ff"/>
<rect x="125.6" y="297.09" width="22.93" height="12.14" fill="#00bdff"/>
<rect x="148.47" y="297.09" width="22.93" height="12.14" fill="#06fff9"/>
<rect x="171.35" y="297.09" width="22.93" height="12.14" fill="#00f1ff"/>
<rect x="194.22" y="297.09" width="22.93" height="12.14" fill="#16ffe9"/>
<rect x="34.1" y="309.19" width="22.93" height="12.14" fill="#00e1ff"/>
<rect x="56.98" y="309.19" width="22.93" height="12.14" fill="#00fdff"/>
<rect x="79.85" y="309.19" width="22.93" height="12.14" fill="#00f1ff"/>
<rect x="102.72" y="309.19" width="22.93" height="12.14" fill="#00e9ff"/>
<rect x="125.6" y="309.19" width="22.93" height="12.14" fill="#00b1ff"/>
<rect x="148.47" y="309.19" width="22.93" height="12.14" fill="#00d9ff"/>
<rect x="171.35" y="309.19" width="22.93" height="12.14" fill="#06fff9"/>
<rect x="194.22" y="309.19" width="22.93" height="12.14" fill="#02fffd"/>
<rect x="34.1" y="321.28" width="22.93" height="12.14" fill="#56ffa9"/>
<rect x="56.98" y="321.28" width="22.93" height="12.14" fill="#46ffb9"/>
<rect x="79.85" y="321.28" width="22.93" height="12.14" fill="#0efff1"/>
<rect x="102.72" y="321.28" width="22.93" height="12.14" fill="#00ddff"/>
<rect x="125.6" y="321.28" width="22.93" height="12.14" fill="#00cdff"/>
<rect x="148.47" y="321.28" width="22.93" height="12.14" fill="#00b9ff"/>
<rect x="171.35" y="321.28" width="22.93" height="12.14" fill="#06fff9"/>
<rect x="194.22" y="321.28" width="22.93" height="12.14" fill="#06fff9"/>
<rect x="34.1" y="333.38" width="22.93" height="12.14" fill="#85ff7a"/>
<rect x="56.98" y="333.38" width="22.93" height="12.14" fill="#6aff95"/>
<rect x="79.85" y="333.38" width="22.93" height="12.14" fill="#81ff7e"/>
<rect x="102.72" y="333.38" width="22.93" height="12.14" fill="#42ffbd"/>
<rect x="125.6" y="333.38" width="22.93" height="12.14" fill="#00f9ff"/>
<rect x="148.47" y="333.38" width="22.93" height="12.14" fill="#00d1ff"/>
<rect x="171.35" y="333.38" width="22.93" height="12.14" fill="#00a5ff"/>
<rect x="194.22" y="333.38" width="22.93" height="12.14" fill="#00e5ff"/>
<rect x="34.1" y="345.47" width="22.93" height="12.14" fill="#a5ff5a"/>
<rect x="56.98" y="345.47" width="22.93" height="12.14" fill="#a5ff5a"/>
<rect x="79.85" y="345.47" width="22.93" height="12.14" fill="#b9ff46"/>
<rect x="102.72" y="345.47" width="22.93" height="12.14" fill="#a1ff5e"/>
<rect x="125.6" y="345.47" width="22.93" height="12.14" fill="#d1ff2e"/>
<rect x="148.47" y="345.47" width="22.93" height="12.14" fill="#06fff9"/>
<rect x="171.35" y="345.47" width="22.93" height="12.14" fill="#ffffff"/>
<rect x="194.22" y="345.47" width="22.93" height="12.14" fill="#00e9ff"/>
<rect x="34.1" y="357.56" width="22.93" height="12.14" fill="#d5ff2a"/>
<rect x="56.98" y="357.56" width="22.93" height="12.14" fill="#bdff42"/>
<rect x="79.85" y="357.56" width="22.93" height="12.14" fill="#f1ff0e"/>
<rect x="102.72" y="357.56" width="22.93" height="12.14" fill="#ffe500"/>
<rect x="125.6" y="357.56" width="22.93" height="12.14" fill="#ffa100"/>
<rect x="148.47" y="357.56" width="22.93" height="12.14" fill="#ff9500"/>
<rect x="171.35" y="357.56" width="22.93" height="12.14" fill="#ffffff"/>
<rect x="194.22" y="357.56" width="22.93" height="12.14" fill="#00ddff"/>
<rect x="34.1" y="369.66" width="22.93" height="12.14" fill="#ffffff"/>
<rect x="56.98" y="369.66" width="22.93" height="12.14" fill="#a1ff5e"/>
<rect x="79.85" y="369.66" width="22.93" height="12.14" fill="#7aff85"/>
<rect x="102.72" y="369.66" width="22.93" height="12.14" fill="#8dff72"/>
<rect x="125.6" y="369.66" width="22.93" height="12.14" fill="#56ffa9"/>
<rect x="148.47" y="369.66" width="22.93" height="12.14" fill="#2affd5"/>
<rect x="171.35" y="369.66" width="22.93" height="12.14" fill="#ffffff"/>
<rect x="194.22" y="369.66" width="22.93" height="12.14" fill="#16ffe9"/>
<path class="g" d="M34.1 285V381.75M56.98 285V381.75M79.85 285V381.75M102.72 285V381.75M125.6 285V381.75M148.47 285V381.75M171.35 285V381.75M194.22 285V381.75M217.1 285V381.75M34.1 285H217.1M34.1 297.09H217.1M34.1 309.19H217.1M34.1 321.28H217.1M34.1 333.38H217.1M34.1 345.47H217.1M34.1 357.56H217.1M34.1 369.66H217.1M34.1 381.75H217.1"/>
<text class="c" x="68.41" y="293.6">6.49</text>
<text class="c" x="91.29" y="293.6">5.80</text>
<text class="c" x="114.16" y="293.6">6.12</text>
<text class="c" x="137.04" y="293.6">5.80</text>
<text class="c" x="159.91" y="293.6">5.63</text>
<text class="c" x="182.79" y="293.6">6.91</text>
<text class="c" x="205.66" y="293.6">6.89</text>
<text class="c" x="45.54" y="305.69">7.07</text>
<text class="c" x="68.41" y="305.69">6.49</text>
<text class="c" x="91.29" y="305.69">5.75</text>
<text class="c" x="114.16" y="305.69">5.81</text>
<text class="c" x="137.04" y="305.69">5.86</text>
<text class="c" x="159.91" y="305.69">7.16</text>
<text class="c" x="182.79" y="305.69">6.84</text>
<text class="c" x="205.66" y="305.69">7.44</text>
<text class="c" x="45.54" y="317.78">6.54</text>
<text class="c" x="68.41" y="317.78">7.02</text>
<text class="c" x="91.29" y="317.78">6.81</text>
<text class="c" x="114.16" y="317.78">6.64</text>
<text class="c" x="137.04" y="317.78">5.64</text>
<text class="c" x="159.91" y="317.78">6.39</text>
<text class="c" x="182.79" y="317.78">7.17</text>
<text class="c" x="205.66" y="317.78">7.14</text>
<text class="c" x="45.54" y="329.88">8.63</text>
<text class="c" x="68.41" y="329.88">8.33</text>
<text class="c" x="91.29" y="329.88">7.29</text>
<text class="c" x="114.16" y="329.88">6.43</text>
<text class="c" x="137.04" y="329.88">6.15</text>
<text class="c" x="159.91" y="329.88">5.80</text>
<text class="c" x="182.79" y="329.88">7.18</text>
<text class="c" x="205.66" y="329.88">7.19</text>
<text class="c" x="45.54" y="341.97">9.54</text>
<text class="c" x="68.41" y="341.97">9.02</text>
<text class="c" x="91.29" y="341.97">9.46</text>
<text class="c" x="114.16" y="341.97">8.31</text>
<text class="c" x="137.04" y="341.97">6.93</text>
<text class="c" x="159.91" y="341.97">6.25</text>
<text class="c w" x="182.79" y="341.97">5.40</text>
<text class="c" x="205.66" y="341.97">6.62</text>
<text class="c" x="45.54" y="354.07">10.16</text>
<text class="c" x="68.41" y="354.07">10.10</text>
<text class="c" x="91.29" y="354.07">10.48</text>
<text class="c" x="114.16" y="354.07">10.02</text>
<text class="c" x="137.04" y="354.07">10.94</text>
<text class="c" x="159.91" y="354.07">7.15</text>
<text class="c" x="205.66" y="354.07">6.68</text>
<text class="c" x="45.54" y="366.16">11.04</text>
<text class="c" x="68.41" y="366.16">10.57</text>
<text class="c" x="91.29" y="366.16">11.52</text>
<text class="c" x="114.16" y="366.16">12.25</text>
<text class="c" x="137.04" y="366.16">13.48</text>
<text class="c" x="159.91" y="366.16">13.71</text>
<text class="c" x="205.66" y="366.16">6.43</text>
<text class="c" x="68.41" y="378.25">10.03</text>
<text class="c" x="91.29" y="378.25">9.33</text>
<text class="c" x="114.16" y="378.25">9.71</text>
<text class="c" x="137.04" y="378.25">8.68</text>
<text class="c" x="159.91" y="378.25">7.85</text>
<text class="c" x="205.66" y="378.25">7.48</text>
<text class="t" text-anchor="end" x="30.3" y="293.45">8.25</text>
<text class="t" text-anchor="end" x="30.3" y="305.54">7.25</text>
<text class="t" text-anchor="end" x="30.3" y="317.63">6.25</text>
<text class="t" text-anchor="end" x="30.3" y="329.73">5.25</text>
<text class="t" text-anchor="end" x="30.3" y="341.82">4.25</text>
<text class="t" text-anchor="end" x="30.3" y="353.92">3.25</text>
<text class="t" text-anchor="end" x="30.3" y="366.01">2.25</text>
<text class="t" text-anchor="end" x="30.3" y="378.1">1.25</text>
<text class="t" text-anchor="middle" x="45.54" y="392.85">0.75</text>
<text class="t" text-anchor="middle" x="68.41" y="392.85">1.75</text>
<text class="t" text-anchor="middle" x="91.29" y="392.85">2.75</text>
<text class="t" text-anchor="middle" x="114.16" y="392.85">3.75</text>
<text class="t" text-anchor="middle" x="137.04" y="392.85">4.75</text>
<text class="t" text-anchor="middle" x="159.91" y="392.85">5.75</text>
<text class="t" text-anchor="middle" x="182.79" y="392.85">6.75</text>
<text class="t" text-anchor="middle" x="205.66" y="392.85">7.75</text>
<text class="lb" transform="translate(11.5 333.38) rotate(-90)">y-coordinate (m)</text>
<text class="lb" x="125.6" y="405.05">x-coordinate (m)</text>
<path d="M168.35 364.41L175.35 361.41L173.05 364.41L175.35 367.41Z" fill="#000"/>
<rect x="223.2" y="285.1" width="10.5" height="80.3" fill="url(#jet)" stroke="#000" stroke-opacity=".45" stroke-width=".5"/>
<text class="t" style="font-size:7px" x="237.2" y="368.5">0</text>
<text class="t" style="font-size:7px" x="237.2" y="347.2">5</text>
<text class="t" style="font-size:7px" x="237.2" y="325.9">10</text>
<text class="t" style="font-size:7px" x="237.2" y="304.6">15</text>
</g>
<g>
<text class="ti" x="427.8" y="280.8">Wood Panels, Source at S3</text>
<rect x="336.4" y="285" width="22.9" height="12.14" fill="#ffffff"/>
<rect x="359.25" y="285" width="22.9" height="12.14" fill="#00b1ff"/>
<rect x="382.1" y="285" width="22.9" height="12.14" fill="#00adff"/>
<rect x="404.95" y="285" width="22.9" height="12.14" fill="#0095ff"/>
<rect x="427.8" y="285" width="22.9" height="12.14" fill="#007eff"/>
<rect x="450.65" y="285" width="22.9" height="12.14" fill="#009dff"/>
<rect x="473.5" y="285" width="22.9" height="12.14" fill="#00b1ff"/>
<rect x="496.35" y="285" width="22.9" height="12.14" fill="#00c1ff"/>
<rect x="336.4" y="297.09" width="22.9" height="12.14" fill="#00d1ff"/>
<rect x="359.25" y="297.09" width="22.9" height="12.14" fill="#00a1ff"/>
<rect x="382.1" y="297.09" width="22.9" height="12.14" fill="#0095ff"/>
<rect x="404.95" y="297.09" width="22.9" height="12.14" fill="#0081ff"/>
<rect x="427.8" y="297.09" width="22.9" height="12.14" fill="#007eff"/>
<rect x="450.65" y="297.09" width="22.9" height="12.14" fill="#0076ff"/>
<rect x="473.5" y="297.09" width="22.9" height="12.14" fill="#00bdff"/>
<rect x="496.35" y="297.09" width="22.9" height="12.14" fill="#00d1ff"/>
<rect x="336.4" y="309.19" width="22.9" height="12.14" fill="#009dff"/>
<rect x="359.25" y="309.19" width="22.9" height="12.14" fill="#00a9ff"/>
<rect x="382.1" y="309.19" width="22.9" height="12.14" fill="#00b5ff"/>
<rect x="404.95" y="309.19" width="22.9" height="12.14" fill="#00a9ff"/>
<rect x="427.8" y="309.19" width="22.9" height="12.14" fill="#0085ff"/>
<rect x="450.65" y="309.19" width="22.9" height="12.14" fill="#0091ff"/>
<rect x="473.5" y="309.19" width="22.9" height="12.14" fill="#00c5ff"/>
<rect x="496.35" y="309.19" width="22.9" height="12.14" fill="#00b5ff"/>
<rect x="336.4" y="321.28" width="22.9" height="12.14" fill="#0afff5"/>
<rect x="359.25" y="321.28" width="22.9" height="12.14" fill="#00e5ff"/>
<rect x="382.1" y="321.28" width="22.9" height="12.14" fill="#00e5ff"/>
<rect x="404.95" y="321.28" width="22.9" height="12.14" fill="#00c9ff"/>
<rect x="427.8" y="321.28" width="22.9" height="12.14" fill="#008dff"/>
<rect x="450.65" y="321.28" width="22.9" height="12.14" fill="#0085ff"/>
<rect x="473.5" y="321.28" width="22.9" height="12.14" fill="#00b1ff"/>
<rect x="496.35" y="321.28" width="22.9" height="12.14" fill="#00b5ff"/>
<rect x="336.4" y="333.38" width="22.9" height="12.14" fill="#00fdff"/>
<rect x="359.25" y="333.38" width="22.9" height="12.14" fill="#26ffd9"/>
<rect x="382.1" y="333.38" width="22.9" height="12.14" fill="#3effc1"/>
<rect x="404.95" y="333.38" width="22.9" height="12.14" fill="#06fff9"/>
<rect x="427.8" y="333.38" width="22.9" height="12.14" fill="#00c5ff"/>
<rect x="450.65" y="333.38" width="22.9" height="12.14" fill="#0099ff"/>
<rect x="473.5" y="333.38" width="22.9" height="12.14" fill="#0081ff"/>
<rect x="496.35" y="333.38" width="22.9" height="12.14" fill="#00d5ff"/>
<rect x="336.4" y="345.47" width="22.9" height="12.14" fill="#52ffad"/>
<rect x="359.25" y="345.47" width="22.9" height="12.14" fill="#6aff95"/>
<rect x="382.1" y="345.47" width="22.9" height="12.14" fill="#85ff7a"/>
<rect x="404.95" y="345.47" width="22.9" height="12.14" fill="#5affa5"/>
<rect x="427.8" y="345.47" width="22.9" height="12.14" fill="#91ff6e"/>
<rect x="450.65" y="345.47" width="22.9" height="12.14" fill="#00bdff"/>
<rect x="473.5" y="345.47" width="22.9" height="12.14" fill="#ffffff"/>
<rect x="496.35" y="345.47" width="22.9" height="12.14" fill="#00e9ff"/>
<rect x="336.4" y="357.56" width="22.9" height="12.14" fill="#89ff76"/>
<rect x="359.25" y="357.56" width="22.9" height="12.14" fill="#81ff7e"/>
<rect x="382.1" y="357.56" width="22.9" height="12.14" fill="#7eff81"/>
<rect x="404.95" y="357.56" width="22.9" height="12.14" fill="#cdff32"/>
<rect x="427.8" y="357.56" width="22.9" height="12.14" fill="#ffbd00"/>
<rect x="450.65" y="357.56" width="22.9" height="12.14" fill="#fdff02"/>
<rect x="473.5" y="357.56" width="22.9" height="12.14" fill="#ffffff"/>
<rect x="496.35" y="357.56" width="22.9" height="12.14" fill="#008dff"/>
<rect x="336.4" y="369.66" width="22.9" height="12.14" fill="#ffffff"/>
<rect x="359.25" y="369.66" width="22.9" height="12.14" fill="#4effb1"/>
<rect x="382.1" y="369.66" width="22.9" height="12.14" fill="#3effc1"/>
<rect x="404.95" y="369.66" width="22.9" height="12.14" fill="#42ffbd"/>
<rect x="427.8" y="369.66" width="22.9" height="12.14" fill="#0afff5"/>
<rect x="450.65" y="369.66" width="22.9" height="12.14" fill="#00cdff"/>
<rect x="473.5" y="369.66" width="22.9" height="12.14" fill="#ffffff"/>
<rect x="496.35" y="369.66" width="22.9" height="12.14" fill="#00d1ff"/>
<path class="g" d="M336.4 285V381.75M359.25 285V381.75M382.1 285V381.75M404.95 285V381.75M427.8 285V381.75M450.65 285V381.75M473.5 285V381.75M496.35 285V381.75M519.2 285V381.75M336.4 285H519.2M336.4 297.09H519.2M336.4 309.19H519.2M336.4 321.28H519.2M336.4 333.38H519.2M336.4 345.47H519.2M336.4 357.56H519.2M336.4 369.66H519.2M336.4 381.75H519.2"/>
<text class="c" x="370.67" y="293.6">5.60</text>
<text class="c" x="393.52" y="293.6">5.54</text>
<text class="c w" x="416.38" y="293.6">5.15</text>
<text class="c w" x="439.22" y="293.6">4.65</text>
<text class="c w" x="462.07" y="293.6">5.24</text>
<text class="c" x="484.92" y="293.6">5.64</text>
<text class="c" x="507.77" y="293.6">5.90</text>
<text class="c" x="347.82" y="305.69">6.19</text>
<text class="c w" x="370.67" y="305.69">5.31</text>
<text class="c w" x="393.52" y="305.69">5.10</text>
<text class="c w" x="416.38" y="305.69">4.78</text>
<text class="c w" x="439.22" y="305.69">4.68</text>
<text class="c w" x="462.07" y="305.69">4.53</text>
<text class="c" x="484.92" y="305.69">5.88</text>
<text class="c" x="507.77" y="305.69">6.21</text>
<text class="c w" x="347.82" y="317.78">5.28</text>
<text class="c w" x="370.67" y="317.78">5.45</text>
<text class="c" x="393.52" y="317.78">5.70</text>
<text class="c w" x="416.38" y="317.78">5.50</text>
<text class="c w" x="439.22" y="317.78">4.83</text>
<text class="c w" x="462.07" y="317.78">5.08</text>
<text class="c" x="484.92" y="317.78">6.00</text>
<text class="c" x="507.77" y="317.78">5.68</text>
<text class="c" x="347.82" y="329.88">7.26</text>
<text class="c" x="370.67" y="329.88">6.57</text>
<text class="c" x="393.52" y="329.88">6.60</text>
<text class="c" x="416.38" y="329.88">6.04</text>
<text class="c w" x="439.22" y="329.88">4.96</text>
<text class="c w" x="462.07" y="329.88">4.83</text>
<text class="c" x="484.92" y="329.88">5.65</text>
<text class="c" x="507.77" y="329.88">5.73</text>
<text class="c" x="347.82" y="341.97">7.03</text>
<text class="c" x="370.67" y="341.97">7.76</text>
<text class="c" x="393.52" y="341.97">8.22</text>
<text class="c" x="416.38" y="341.97">7.16</text>
<text class="c" x="439.22" y="341.97">6.01</text>
<text class="c w" x="462.07" y="341.97">5.17</text>
<text class="c w" x="484.92" y="341.97">4.74</text>
<text class="c" x="507.77" y="341.97">6.29</text>
<text class="c" x="347.82" y="354.07">8.59</text>
<text class="c" x="370.67" y="354.07">9.05</text>
<text class="c" x="393.52" y="354.07">9.56</text>
<text class="c" x="416.38" y="354.07">8.71</text>
<text class="c" x="439.22" y="354.07">9.76</text>
<text class="c" x="462.07" y="354.07">5.84</text>
<text class="c" x="507.77" y="354.07">6.65</text>
<text class="c" x="347.82" y="366.16">9.63</text>
<text class="c" x="370.67" y="366.16">9.48</text>
<text class="c" x="393.52" y="366.16">9.38</text>
<text class="c" x="416.38" y="366.16">10.83</text>
<text class="c" x="439.22" y="366.16">13.03</text>
<text class="c" x="462.07" y="366.16">11.75</text>
<text class="c w" x="507.77" y="366.16">4.99</text>
<text class="c" x="370.67" y="378.25">8.51</text>
<text class="c" x="393.52" y="378.25">8.20</text>
<text class="c" x="416.38" y="378.25">8.29</text>
<text class="c" x="439.22" y="378.25">7.26</text>
<text class="c" x="462.07" y="378.25">6.15</text>
<text class="c" x="507.77" y="378.25">6.23</text>
<text class="t" text-anchor="end" x="332.6" y="293.45">8.25</text>
<text class="t" text-anchor="end" x="332.6" y="305.54">7.25</text>
<text class="t" text-anchor="end" x="332.6" y="317.63">6.25</text>
<text class="t" text-anchor="end" x="332.6" y="329.73">5.25</text>
<text class="t" text-anchor="end" x="332.6" y="341.82">4.25</text>
<text class="t" text-anchor="end" x="332.6" y="353.92">3.25</text>
<text class="t" text-anchor="end" x="332.6" y="366.01">2.25</text>
<text class="t" text-anchor="end" x="332.6" y="378.1">1.25</text>
<text class="t" text-anchor="middle" x="347.82" y="392.85">0.75</text>
<text class="t" text-anchor="middle" x="370.67" y="392.85">1.75</text>
<text class="t" text-anchor="middle" x="393.52" y="392.85">2.75</text>
<text class="t" text-anchor="middle" x="416.38" y="392.85">3.75</text>
<text class="t" text-anchor="middle" x="439.22" y="392.85">4.75</text>
<text class="t" text-anchor="middle" x="462.07" y="392.85">5.75</text>
<text class="t" text-anchor="middle" x="484.92" y="392.85">6.75</text>
<text class="t" text-anchor="middle" x="507.77" y="392.85">7.75</text>
<text class="lb" transform="translate(313.8 333.38) rotate(-90)">y-coordinate (m)</text>
<text class="lb" x="427.8" y="405.05">x-coordinate (m)</text>
<path d="M470.5 364.41L477.5 361.41L475.2 364.41L477.5 367.41Z" fill="#000"/>
<rect x="525.3" y="285.1" width="10.5" height="80.3" fill="url(#jet)" stroke="#000" stroke-opacity=".45" stroke-width=".5"/>
<text class="t" style="font-size:7px" x="539.3" y="368.5">0</text>
<text class="t" style="font-size:7px" x="539.3" y="347.2">5</text>
<text class="t" style="font-size:7px" x="539.3" y="325.9">10</text>
<text class="t" style="font-size:7px" x="539.3" y="304.6">15</text>
</g>
<g>
<text class="ti" x="126.35" y="455.4">Felt Panels, Source at S1</text>
<rect x="35.1" y="459.6" width="22.86" height="12.14" fill="#ffffff"/>
<rect x="57.91" y="459.6" width="22.86" height="12.14" fill="#0095ff"/>
<rect x="80.72" y="459.6" width="22.86" height="12.14" fill="#00a5ff"/>
<rect x="103.54" y="459.6" width="22.86" height="12.14" fill="#0072ff"/>
<rect x="126.35" y="459.6" width="22.86" height="12.14" fill="#00f5ff"/>
<rect x="149.16" y="459.6" width="22.86" height="12.14" fill="#00c9ff"/>
<rect x="171.97" y="459.6" width="22.86" height="12.14" fill="#00c5ff"/>
<rect x="194.79" y="459.6" width="22.86" height="12.14" fill="#00d1ff"/>
<rect x="35.1" y="471.69" width="22.86" height="12.14" fill="#00bdff"/>
<rect x="57.91" y="471.69" width="22.86" height="12.14" fill="#0099ff"/>
<rect x="80.72" y="471.69" width="22.86" height="12.14" fill="#00a5ff"/>
<rect x="103.54" y="471.69" width="22.86" height="12.14" fill="#00ddff"/>
<rect x="126.35" y="471.69" width="22.86" height="12.14" fill="#b1ff4e"/>
<rect x="149.16" y="471.69" width="22.86" height="12.14" fill="#26ffd9"/>
<rect x="171.97" y="471.69" width="22.86" height="12.14" fill="#00e9ff"/>
<rect x="194.79" y="471.69" width="22.86" height="12.14" fill="#00c5ff"/>
<rect x="35.1" y="483.79" width="22.86" height="12.14" fill="#0089ff"/>
<rect x="57.91" y="483.79" width="22.86" height="12.14" fill="#00c9ff"/>
<rect x="80.72" y="483.79" width="22.86" height="12.14" fill="#00cdff"/>
<rect x="103.54" y="483.79" width="22.86" height="12.14" fill="#7aff85"/>
<rect x="126.35" y="483.79" width="22.86" height="12.14" fill="#fd0000"/>
<rect x="149.16" y="483.79" width="22.86" height="12.14" fill="#c5ff3a"/>
<rect x="171.97" y="483.79" width="22.86" height="12.14" fill="#00ddff"/>
<rect x="194.79" y="483.79" width="22.86" height="12.14" fill="#02fffd"/>
<rect x="35.1" y="495.88" width="22.86" height="12.14" fill="#00b9ff"/>
<rect x="57.91" y="495.88" width="22.86" height="12.14" fill="#00a9ff"/>
<rect x="80.72" y="495.88" width="22.86" height="12.14" fill="#00cdff"/>
<rect x="103.54" y="495.88" width="22.86" height="12.14" fill="#7aff85"/>
<rect x="126.35" y="495.88" width="22.86" height="12.14" fill="#e1ff1e"/>
<rect x="149.16" y="495.88" width="22.86" height="12.14" fill="#85ff7a"/>
<rect x="171.97" y="495.88" width="22.86" height="12.14" fill="#00d1ff"/>
<rect x="194.79" y="495.88" width="22.86" height="12.14" fill="#00edff"/>
<rect x="35.1" y="507.98" width="22.86" height="12.14" fill="#00e1ff"/>
<rect x="57.91" y="507.98" width="22.86" height="12.14" fill="#009dff"/>
<rect x="80.72" y="507.98" width="22.86" height="12.14" fill="#00e9ff"/>
<rect x="103.54" y="507.98" width="22.86" height="12.14" fill="#06fff9"/>
<rect x="126.35" y="507.98" width="22.86" height="12.14" fill="#6eff91"/>
<rect x="149.16" y="507.98" width="22.86" height="12.14" fill="#32ffcd"/>
<rect x="171.97" y="507.98" width="22.86" height="12.14" fill="#16ffe9"/>
<rect x="194.79" y="507.98" width="22.86" height="12.14" fill="#02fffd"/>
<rect x="35.1" y="520.07" width="22.86" height="12.14" fill="#00d5ff"/>
<rect x="57.91" y="520.07" width="22.86" height="12.14" fill="#00e5ff"/>
<rect x="80.72" y="520.07" width="22.86" height="12.14" fill="#00b5ff"/>
<rect x="103.54" y="520.07" width="22.86" height="12.14" fill="#00f9ff"/>
<rect x="126.35" y="520.07" width="22.86" height="12.14" fill="#06fff9"/>
<rect x="149.16" y="520.07" width="22.86" height="12.14" fill="#02fffd"/>
<rect x="171.97" y="520.07" width="22.86" height="12.14" fill="#ffffff"/>
<rect x="194.79" y="520.07" width="22.86" height="12.14" fill="#02fffd"/>
<rect x="35.1" y="532.16" width="22.86" height="12.14" fill="#00d1ff"/>
<rect x="57.91" y="532.16" width="22.86" height="12.14" fill="#02fffd"/>
<rect x="80.72" y="532.16" width="22.86" height="12.14" fill="#00c9ff"/>
<rect x="103.54" y="532.16" width="22.86" height="12.14" fill="#00f5ff"/>
<rect x="126.35" y="532.16" width="22.86" height="12.14" fill="#1affe5"/>
<rect x="149.16" y="532.16" width="22.86" height="12.14" fill="#1affe5"/>
<rect x="171.97" y="532.16" width="22.86" height="12.14" fill="#ffffff"/>
<rect x="194.79" y="532.16" width="22.86" height="12.14" fill="#00f5ff"/>
<rect x="35.1" y="544.26" width="22.86" height="12.14" fill="#ffffff"/>
<rect x="57.91" y="544.26" width="22.86" height="12.14" fill="#02fffd"/>
<rect x="80.72" y="544.26" width="22.86" height="12.14" fill="#00fdff"/>
<rect x="103.54" y="544.26" width="22.86" height="12.14" fill="#00e5ff"/>
<rect x="126.35" y="544.26" width="22.86" height="12.14" fill="#00f5ff"/>
<rect x="149.16" y="544.26" width="22.86" height="12.14" fill="#00edff"/>
<rect x="171.97" y="544.26" width="22.86" height="12.14" fill="#ffffff"/>
<rect x="194.79" y="544.26" width="22.86" height="12.14" fill="#16ffe9"/>
<path class="g" d="M35.1 459.6V556.35M57.91 459.6V556.35M80.72 459.6V556.35M103.54 459.6V556.35M126.35 459.6V556.35M149.16 459.6V556.35M171.97 459.6V556.35M194.79 459.6V556.35M217.6 459.6V556.35M35.1 459.6H217.6M35.1 471.69H217.6M35.1 483.79H217.6M35.1 495.88H217.6M35.1 507.98H217.6M35.1 520.07H217.6M35.1 532.16H217.6M35.1 544.26H217.6M35.1 556.35H217.6"/>
<text class="c w" x="69.32" y="468.2">5.12</text>
<text class="c w" x="92.13" y="468.2">5.44</text>
<text class="c w" x="114.94" y="468.2">4.43</text>
<text class="c" x="137.76" y="468.2">6.86</text>
<text class="c" x="160.57" y="468.2">6.10</text>
<text class="c" x="183.38" y="468.2">6.00</text>
<text class="c" x="206.19" y="468.2">6.20</text>
<text class="c" x="46.51" y="480.29">5.83</text>
<text class="c w" x="69.32" y="480.29">5.16</text>
<text class="c w" x="92.13" y="480.29">5.43</text>
<text class="c" x="114.94" y="480.29">6.44</text>
<text class="c" x="137.76" y="480.29">10.31</text>
<text class="c" x="160.57" y="480.29">7.74</text>
<text class="c" x="183.38" y="480.29">6.63</text>
<text class="c" x="206.19" y="480.29">6.03</text>
<text class="c w" x="46.51" y="492.38">4.91</text>
<text class="c" x="69.32" y="492.38">6.08</text>
<text class="c" x="92.13" y="492.38">6.16</text>
<text class="c" x="114.94" y="492.38">9.32</text>
<text class="c w" x="137.76" y="492.38">16.53</text>
<text class="c" x="160.57" y="492.38">10.73</text>
<text class="c" x="183.38" y="492.38">6.47</text>
<text class="c" x="206.19" y="492.38">7.13</text>
<text class="c" x="46.51" y="504.48">5.78</text>
<text class="c w" x="69.32" y="504.48">5.49</text>
<text class="c" x="92.13" y="504.48">6.12</text>
<text class="c" x="114.94" y="504.48">9.33</text>
<text class="c" x="137.76" y="504.48">11.24</text>
<text class="c" x="160.57" y="504.48">9.54</text>
<text class="c" x="183.38" y="504.48">6.20</text>
<text class="c" x="206.19" y="504.48">6.71</text>
<text class="c" x="46.51" y="516.57">6.52</text>
<text class="c w" x="69.32" y="516.57">5.25</text>
<text class="c" x="92.13" y="516.57">6.68</text>
<text class="c" x="114.94" y="516.57">7.21</text>
<text class="c" x="137.76" y="516.57">9.06</text>
<text class="c" x="160.57" y="516.57">8.01</text>
<text class="c" x="183.38" y="516.57">7.49</text>
<text class="c" x="206.19" y="516.57">7.09</text>
<text class="c" x="46.51" y="528.67">6.29</text>
<text class="c" x="69.32" y="528.67">6.60</text>
<text class="c" x="92.13" y="528.67">5.70</text>
<text class="c" x="114.94" y="528.67">6.96</text>
<text class="c" x="137.76" y="528.67">7.15</text>
<text class="c" x="160.57" y="528.67">7.14</text>
<text class="c" x="206.19" y="528.67">7.12</text>
<text class="c" x="46.51" y="540.76">6.22</text>
<text class="c" x="69.32" y="540.76">7.11</text>
<text class="c" x="92.13" y="540.76">6.11</text>
<text class="c" x="114.94" y="540.76">6.85</text>
<text class="c" x="137.76" y="540.76">7.53</text>
<text class="c" x="160.57" y="540.76">7.56</text>
<text class="c" x="206.19" y="540.76">6.85</text>
<text class="c" x="69.32" y="552.85">7.09</text>
<text class="c" x="92.13" y="552.85">7.06</text>
<text class="c" x="114.94" y="552.85">6.62</text>
<text class="c" x="137.76" y="552.85">6.87</text>
<text class="c" x="160.57" y="552.85">6.72</text>
<text class="c" x="206.19" y="552.85">7.48</text>
<text class="t" text-anchor="end" x="31.3" y="468.05">8.25</text>
<text class="t" text-anchor="end" x="31.3" y="480.14">7.25</text>
<text class="t" text-anchor="end" x="31.3" y="492.23">6.25</text>
<text class="t" text-anchor="end" x="31.3" y="504.33">5.25</text>
<text class="t" text-anchor="end" x="31.3" y="516.42">4.25</text>
<text class="t" text-anchor="end" x="31.3" y="528.52">3.25</text>
<text class="t" text-anchor="end" x="31.3" y="540.61">2.25</text>
<text class="t" text-anchor="end" x="31.3" y="552.7">1.25</text>
<text class="t" text-anchor="middle" x="46.51" y="567.45">0.75</text>
<text class="t" text-anchor="middle" x="69.32" y="567.45">1.75</text>
<text class="t" text-anchor="middle" x="92.13" y="567.45">2.75</text>
<text class="t" text-anchor="middle" x="114.94" y="567.45">3.75</text>
<text class="t" text-anchor="middle" x="137.76" y="567.45">4.75</text>
<text class="t" text-anchor="middle" x="160.57" y="567.45">5.75</text>
<text class="t" text-anchor="middle" x="183.38" y="567.45">6.75</text>
<text class="t" text-anchor="middle" x="206.19" y="567.45">7.75</text>
<text class="lb" transform="translate(12.5 507.98) rotate(-90)">y-coordinate (m)</text>
<path d="M135.26 480.49L141.06 480.49L138.16 486.19Z" fill="#000"/>
<rect x="223.7" y="459.7" width="10.5" height="80.3" fill="url(#jet)" stroke="#000" stroke-opacity=".45" stroke-width=".5"/>
<text class="t" style="font-size:7px" x="237.7" y="543.1">0</text>
<text class="t" style="font-size:7px" x="237.7" y="521.8">5</text>
<text class="t" style="font-size:7px" x="237.7" y="500.5">10</text>
<text class="t" style="font-size:7px" x="237.7" y="479.2">15</text>
</g>
<g>
<text class="ti" x="428.6" y="455.1">Wood Panels, Source at S1</text>
<rect x="337.5" y="459.3" width="22.82" height="12.14" fill="#ffffff"/>
<rect x="360.27" y="459.3" width="22.82" height="12.14" fill="#0062ff"/>
<rect x="383.05" y="459.3" width="22.82" height="12.14" fill="#0056ff"/>
<rect x="405.82" y="459.3" width="22.82" height="12.14" fill="#0085ff"/>
<rect x="428.6" y="459.3" width="22.82" height="12.14" fill="#009dff"/>
<rect x="451.38" y="459.3" width="22.82" height="12.14" fill="#0099ff"/>
<rect x="474.15" y="459.3" width="22.82" height="12.14" fill="#0089ff"/>
<rect x="496.92" y="459.3" width="22.82" height="12.14" fill="#0081ff"/>
<rect x="337.5" y="471.39" width="22.82" height="12.14" fill="#0081ff"/>
<rect x="360.27" y="471.39" width="22.82" height="12.14" fill="#0032ff"/>
<rect x="383.05" y="471.39" width="22.82" height="12.14" fill="#0072ff"/>
<rect x="405.82" y="471.39" width="22.82" height="12.14" fill="#00e5ff"/>
<rect x="428.6" y="471.39" width="22.82" height="12.14" fill="#6eff91"/>
<rect x="451.38" y="471.39" width="22.82" height="12.14" fill="#00e5ff"/>
<rect x="474.15" y="471.39" width="22.82" height="12.14" fill="#00a1ff"/>
<rect x="496.92" y="471.39" width="22.82" height="12.14" fill="#0091ff"/>
<rect x="337.5" y="483.49" width="22.82" height="12.14" fill="#005eff"/>
<rect x="360.27" y="483.49" width="22.82" height="12.14" fill="#008dff"/>
<rect x="383.05" y="483.49" width="22.82" height="12.14" fill="#00adff"/>
<rect x="405.82" y="483.49" width="22.82" height="12.14" fill="#62ff9d"/>
<rect x="428.6" y="483.49" width="22.82" height="12.14" fill="#ff5200"/>
<rect x="451.38" y="483.49" width="22.82" height="12.14" fill="#7eff81"/>
<rect x="474.15" y="483.49" width="22.82" height="12.14" fill="#00a1ff"/>
<rect x="496.92" y="483.49" width="22.82" height="12.14" fill="#00b1ff"/>
<rect x="337.5" y="495.58" width="22.82" height="12.14" fill="#00a1ff"/>
<rect x="360.27" y="495.58" width="22.82" height="12.14" fill="#00b5ff"/>
<rect x="383.05" y="495.58" width="22.82" height="12.14" fill="#00a5ff"/>
<rect x="405.82" y="495.58" width="22.82" height="12.14" fill="#1effe1"/>
<rect x="428.6" y="495.58" width="22.82" height="12.14" fill="#c1ff3e"/>
<rect x="451.38" y="495.58" width="22.82" height="12.14" fill="#2effd1"/>
<rect x="474.15" y="495.58" width="22.82" height="12.14" fill="#00cdff"/>
<rect x="496.92" y="495.58" width="22.82" height="12.14" fill="#00a9ff"/>
<rect x="337.5" y="507.68" width="22.82" height="12.14" fill="#0095ff"/>
<rect x="360.27" y="507.68" width="22.82" height="12.14" fill="#007eff"/>
<rect x="383.05" y="507.68" width="22.82" height="12.14" fill="#00bdff"/>
<rect x="405.82" y="507.68" width="22.82" height="12.14" fill="#00d1ff"/>
<rect x="428.6" y="507.68" width="22.82" height="12.14" fill="#12ffed"/>
<rect x="451.38" y="507.68" width="22.82" height="12.14" fill="#00edff"/>
<rect x="474.15" y="507.68" width="22.82" height="12.14" fill="#00c9ff"/>
<rect x="496.92" y="507.68" width="22.82" height="12.14" fill="#00b5ff"/>
<rect x="337.5" y="519.77" width="22.82" height="12.14" fill="#0091ff"/>
<rect x="360.27" y="519.77" width="22.82" height="12.14" fill="#00a5ff"/>
<rect x="383.05" y="519.77" width="22.82" height="12.14" fill="#0095ff"/>
<rect x="405.82" y="519.77" width="22.82" height="12.14" fill="#00c9ff"/>
<rect x="428.6" y="519.77" width="22.82" height="12.14" fill="#00c1ff"/>
<rect x="451.38" y="519.77" width="22.82" height="12.14" fill="#00cdff"/>
<rect x="474.15" y="519.77" width="22.82" height="12.14" fill="#ffffff"/>
<rect x="496.92" y="519.77" width="22.82" height="12.14" fill="#00a1ff"/>
<rect x="337.5" y="531.86" width="22.82" height="12.14" fill="#009dff"/>
<rect x="360.27" y="531.86" width="22.82" height="12.14" fill="#00edff"/>
<rect x="383.05" y="531.86" width="22.82" height="12.14" fill="#009dff"/>
<rect x="405.82" y="531.86" width="22.82" height="12.14" fill="#00c5ff"/>
<rect x="428.6" y="531.86" width="22.82" height="12.14" fill="#00ddff"/>
<rect x="451.38" y="531.86" width="22.82" height="12.14" fill="#00ddff"/>
<rect x="474.15" y="531.86" width="22.82" height="12.14" fill="#ffffff"/>
<rect x="496.92" y="531.86" width="22.82" height="12.14" fill="#00b1ff"/>
<rect x="337.5" y="543.96" width="22.82" height="12.14" fill="#ffffff"/>
<rect x="360.27" y="543.96" width="22.82" height="12.14" fill="#00a1ff"/>
<rect x="383.05" y="543.96" width="22.82" height="12.14" fill="#00e1ff"/>
<rect x="405.82" y="543.96" width="22.82" height="12.14" fill="#00d5ff"/>
<rect x="428.6" y="543.96" width="22.82" height="12.14" fill="#00b9ff"/>
<rect x="451.38" y="543.96" width="22.82" height="12.14" fill="#00cdff"/>
<rect x="474.15" y="543.96" width="22.82" height="12.14" fill="#ffffff"/>
<rect x="496.92" y="543.96" width="22.82" height="12.14" fill="#00d9ff"/>
<path class="g" d="M337.5 459.3V556.05M360.27 459.3V556.05M383.05 459.3V556.05M405.82 459.3V556.05M428.6 459.3V556.05M451.38 459.3V556.05M474.15 459.3V556.05M496.92 459.3V556.05M519.7 459.3V556.05M337.5 459.3H519.7M337.5 471.39H519.7M337.5 483.49H519.7M337.5 495.58H519.7M337.5 507.68H519.7M337.5 519.77H519.7M337.5 531.86H519.7M337.5 543.96H519.7M337.5 556.05H519.7"/>
<text class="c w" x="371.66" y="467.9">4.14</text>
<text class="c w" x="394.44" y="467.9">3.93</text>
<text class="c w" x="417.21" y="467.9">4.79</text>
<text class="c w" x="439.99" y="467.9">5.25</text>
<text class="c w" x="462.76" y="467.9">5.18</text>
<text class="c w" x="485.54" y="467.9">4.92</text>
<text class="c w" x="508.31" y="467.9">4.78</text>
<text class="c w" x="348.89" y="479.99">4.73</text>
<text class="c w" x="371.66" y="479.99">3.24</text>
<text class="c w" x="394.44" y="479.99">4.47</text>
<text class="c" x="417.21" y="479.99">6.61</text>
<text class="c" x="439.99" y="479.99">9.13</text>
<text class="c" x="462.76" y="479.99">6.59</text>
<text class="c w" x="485.54" y="479.99">5.37</text>
<text class="c w" x="508.31" y="479.99">5.02</text>
<text class="c w" x="348.89" y="492.08">4.07</text>
<text class="c w" x="371.66" y="492.08">4.94</text>
<text class="c" x="394.44" y="492.08">5.55</text>
<text class="c" x="417.21" y="492.08">8.87</text>
<text class="c w" x="439.99" y="492.08">14.98</text>
<text class="c" x="462.76" y="492.08">9.41</text>
<text class="c w" x="485.54" y="492.08">5.34</text>
<text class="c" x="508.31" y="492.08">5.66</text>
<text class="c w" x="348.89" y="504.18">5.36</text>
<text class="c" x="371.66" y="504.18">5.67</text>
<text class="c w" x="394.44" y="504.18">5.39</text>
<text class="c" x="417.21" y="504.18">7.61</text>
<text class="c" x="439.99" y="504.18">10.62</text>
<text class="c" x="462.76" y="504.18">7.89</text>
<text class="c" x="485.54" y="504.18">6.18</text>
<text class="c w" x="508.31" y="504.18">5.48</text>
<text class="c w" x="348.89" y="516.27">5.14</text>
<text class="c w" x="371.66" y="516.27">4.65</text>
<text class="c" x="394.44" y="516.27">5.89</text>
<text class="c" x="417.21" y="516.27">6.22</text>
<text class="c" x="439.99" y="516.27">7.41</text>
<text class="c" x="462.76" y="516.27">6.76</text>
<text class="c" x="485.54" y="516.27">6.10</text>
<text class="c" x="508.31" y="516.27">5.70</text>
<text class="c w" x="348.89" y="528.37">5.04</text>
<text class="c w" x="371.66" y="528.37">5.42</text>
<text class="c w" x="394.44" y="528.37">5.15</text>
<text class="c" x="417.21" y="528.37">6.04</text>
<text class="c" x="439.99" y="528.37">5.93</text>
<text class="c" x="462.76" y="528.37">6.17</text>
<text class="c w" x="508.31" y="528.37">5.35</text>
<text class="c w" x="348.89" y="540.46">5.26</text>
<text class="c" x="371.66" y="540.46">6.71</text>
<text class="c w" x="394.44" y="540.46">5.24</text>
<text class="c" x="417.21" y="540.46">6.02</text>
<text class="c" x="439.99" y="540.46">6.46</text>
<text class="c" x="462.76" y="540.46">6.45</text>
<text class="c" x="508.31" y="540.46">5.66</text>
<text class="c w" x="371.66" y="552.55">5.32</text>
<text class="c" x="394.44" y="552.55">6.54</text>
<text class="c" x="417.21" y="552.55">6.29</text>
<text class="c" x="439.99" y="552.55">5.77</text>
<text class="c" x="462.76" y="552.55">6.13</text>
<text class="c" x="508.31" y="552.55">6.38</text>
<text class="t" text-anchor="end" x="333.7" y="467.75">8.25</text>
<text class="t" text-anchor="end" x="333.7" y="479.84">7.25</text>
<text class="t" text-anchor="end" x="333.7" y="491.93">6.25</text>
<text class="t" text-anchor="end" x="333.7" y="504.03">5.25</text>
<text class="t" text-anchor="end" x="333.7" y="516.12">4.25</text>
<text class="t" text-anchor="end" x="333.7" y="528.22">3.25</text>
<text class="t" text-anchor="end" x="333.7" y="540.31">2.25</text>
<text class="t" text-anchor="end" x="333.7" y="552.4">1.25</text>
<text class="t" text-anchor="middle" x="348.89" y="567.15">0.75</text>
<text class="t" text-anchor="middle" x="371.66" y="567.15">1.75</text>
<text class="t" text-anchor="middle" x="394.44" y="567.15">2.75</text>
<text class="t" text-anchor="middle" x="417.21" y="567.15">3.75</text>
<text class="t" text-anchor="middle" x="439.99" y="567.15">4.75</text>
<text class="t" text-anchor="middle" x="462.76" y="567.15">5.75</text>
<text class="t" text-anchor="middle" x="485.54" y="567.15">6.75</text>
<text class="t" text-anchor="middle" x="508.31" y="567.15">7.75</text>
<text class="lb" transform="translate(314.9 507.68) rotate(-90)">y-coordinate (m)</text>
<path d="M437.49 480.19L443.29 480.19L440.39 485.89Z" fill="#000"/>
<rect x="525.8" y="459.4" width="10.5" height="80.3" fill="url(#jet)" stroke="#000" stroke-opacity=".45" stroke-width=".5"/>
<text class="t" style="font-size:7px" x="539.8" y="542.8">0</text>
<text class="t" style="font-size:7px" x="539.8" y="521.5">5</text>
<text class="t" style="font-size:7px" x="539.8" y="500.2">10</text>
<text class="t" style="font-size:7px" x="539.8" y="478.9">15</text>
</g>
<g>
<text class="ti" x="126.35" y="590.35">Felt Panels, Source at S2</text>
<rect x="35.1" y="594.55" width="22.86" height="12.14" fill="#ffffff"/>
<rect x="57.91" y="594.55" width="22.86" height="12.14" fill="#00c5ff"/>
<rect x="80.72" y="594.55" width="22.86" height="12.14" fill="#004eff"/>
<rect x="103.54" y="594.55" width="22.86" height="12.14" fill="#00adff"/>
<rect x="126.35" y="594.55" width="22.86" height="12.14" fill="#0081ff"/>
<rect x="149.16" y="594.55" width="22.86" height="12.14" fill="#00f9ff"/>
<rect x="171.97" y="594.55" width="22.86" height="12.14" fill="#00b1ff"/>
<rect x="194.79" y="594.55" width="22.86" height="12.14" fill="#00c5ff"/>
<rect x="35.1" y="606.64" width="22.86" height="12.14" fill="#0095ff"/>
<rect x="57.91" y="606.64" width="22.86" height="12.14" fill="#004eff"/>
<rect x="80.72" y="606.64" width="22.86" height="12.14" fill="#00adff"/>
<rect x="103.54" y="606.64" width="22.86" height="12.14" fill="#0062ff"/>
<rect x="126.35" y="606.64" width="22.86" height="12.14" fill="#00a1ff"/>
<rect x="149.16" y="606.64" width="22.86" height="12.14" fill="#007eff"/>
<rect x="171.97" y="606.64" width="22.86" height="12.14" fill="#0042ff"/>
<rect x="194.79" y="606.64" width="22.86" height="12.14" fill="#00a5ff"/>
<rect x="35.1" y="618.74" width="22.86" height="12.14" fill="#00bdff"/>
<rect x="57.91" y="618.74" width="22.86" height="12.14" fill="#00a5ff"/>
<rect x="80.72" y="618.74" width="22.86" height="12.14" fill="#00a5ff"/>
<rect x="103.54" y="618.74" width="22.86" height="12.14" fill="#00e1ff"/>
<rect x="126.35" y="618.74" width="22.86" height="12.14" fill="#008dff"/>
<rect x="149.16" y="618.74" width="22.86" height="12.14" fill="#009dff"/>
<rect x="171.97" y="618.74" width="22.86" height="12.14" fill="#00a1ff"/>
<rect x="194.79" y="618.74" width="22.86" height="12.14" fill="#007aff"/>
<rect x="35.1" y="630.83" width="22.86" height="12.14" fill="#00a1ff"/>
<rect x="57.91" y="630.83" width="22.86" height="12.14" fill="#00a5ff"/>
<rect x="80.72" y="630.83" width="22.86" height="12.14" fill="#00d1ff"/>
<rect x="103.54" y="630.83" width="22.86" height="12.14" fill="#1affe5"/>
<rect x="126.35" y="630.83" width="22.86" height="12.14" fill="#16ffe9"/>
<rect x="149.16" y="630.83" width="22.86" height="12.14" fill="#00edff"/>
<rect x="171.97" y="630.83" width="22.86" height="12.14" fill="#00cdff"/>
<rect x="194.79" y="630.83" width="22.86" height="12.14" fill="#00b5ff"/>
<rect x="35.1" y="642.92" width="22.86" height="12.14" fill="#00f9ff"/>
<rect x="57.91" y="642.92" width="22.86" height="12.14" fill="#00e9ff"/>
<rect x="80.72" y="642.92" width="22.86" height="12.14" fill="#00f5ff"/>
<rect x="103.54" y="642.92" width="22.86" height="12.14" fill="#ff7200"/>
<rect x="126.35" y="642.92" width="22.86" height="12.14" fill="#ffe100"/>
<rect x="149.16" y="642.92" width="22.86" height="12.14" fill="#2effd1"/>
<rect x="171.97" y="642.92" width="22.86" height="12.14" fill="#00c9ff"/>
<rect x="194.79" y="642.92" width="22.86" height="12.14" fill="#00bdff"/>
<rect x="35.1" y="655.02" width="22.86" height="12.14" fill="#00c1ff"/>
<rect x="57.91" y="655.02" width="22.86" height="12.14" fill="#02fffd"/>
<rect x="80.72" y="655.02" width="22.86" height="12.14" fill="#2effd1"/>
<rect x="103.54" y="655.02" width="22.86" height="12.14" fill="#c5ff3a"/>
<rect x="126.35" y="655.02" width="22.86" height="12.14" fill="#c9ff36"/>
<rect x="149.16" y="655.02" width="22.86" height="12.14" fill="#46ffb9"/>
<rect x="171.97" y="655.02" width="22.86" height="12.14" fill="#ffffff"/>
<rect x="194.79" y="655.02" width="22.86" height="12.14" fill="#00f1ff"/>
<rect x="35.1" y="667.11" width="22.86" height="12.14" fill="#12ffed"/>
<rect x="57.91" y="667.11" width="22.86" height="12.14" fill="#00e9ff"/>
<rect x="80.72" y="667.11" width="22.86" height="12.14" fill="#2affd5"/>
<rect x="103.54" y="667.11" width="22.86" height="12.14" fill="#5affa5"/>
<rect x="126.35" y="667.11" width="22.86" height="12.14" fill="#3affc5"/>
<rect x="149.16" y="667.11" width="22.86" height="12.14" fill="#3affc5"/>
<rect x="171.97" y="667.11" width="22.86" height="12.14" fill="#ffffff"/>
<rect x="194.79" y="667.11" width="22.86" height="12.14" fill="#0afff5"/>
<rect x="35.1" y="679.21" width="22.86" height="12.14" fill="#ffffff"/>
<rect x="57.91" y="679.21" width="22.86" height="12.14" fill="#00d9ff"/>
<rect x="80.72" y="679.21" width="22.86" height="12.14" fill="#4affb5"/>
<rect x="103.54" y="679.21" width="22.86" height="12.14" fill="#4effb1"/>
<rect x="126.35" y="679.21" width="22.86" height="12.14" fill="#22ffdd"/>
<rect x="149.16" y="679.21" width="22.86" height="12.14" fill="#16ffe9"/>
<rect x="171.97" y="679.21" width="22.86" height="12.14" fill="#ffffff"/>
<rect x="194.79" y="679.21" width="22.86" height="12.14" fill="#26ffd9"/>
<path class="g" d="M35.1 594.55V691.3M57.91 594.55V691.3M80.72 594.55V691.3M103.54 594.55V691.3M126.35 594.55V691.3M149.16 594.55V691.3M171.97 594.55V691.3M194.79 594.55V691.3M217.6 594.55V691.3M35.1 594.55H217.6M35.1 606.64H217.6M35.1 618.74H217.6M35.1 630.83H217.6M35.1 642.92H217.6M35.1 655.02H217.6M35.1 667.11H217.6M35.1 679.21H217.6M35.1 691.3H217.6"/>
<text class="c" x="69.32" y="603.15">6.01</text>
<text class="c w" x="92.13" y="603.15">3.77</text>
<text class="c" x="114.94" y="603.15">5.56</text>
<text class="c w" x="137.76" y="603.15">4.74</text>
<text class="c" x="160.57" y="603.15">6.94</text>
<text class="c" x="183.38" y="603.15">5.62</text>
<text class="c" x="206.19" y="603.15">6.00</text>
<text class="c w" x="46.51" y="615.24">5.12</text>
<text class="c w" x="69.32" y="615.24">3.78</text>
<text class="c" x="92.13" y="615.24">5.59</text>
<text class="c w" x="114.94" y="615.24">4.14</text>
<text class="c w" x="137.76" y="615.24">5.36</text>
<text class="c w" x="160.57" y="615.24">4.66</text>
<text class="c w" x="183.38" y="615.24">3.57</text>
<text class="c w" x="206.19" y="615.24">5.43</text>
<text class="c" x="46.51" y="627.33">5.86</text>
<text class="c w" x="69.32" y="627.33">5.44</text>
<text class="c w" x="92.13" y="627.33">5.43</text>
<text class="c" x="114.94" y="627.33">6.55</text>
<text class="c w" x="137.76" y="627.33">4.96</text>
<text class="c w" x="160.57" y="627.33">5.26</text>
<text class="c w" x="183.38" y="627.33">5.35</text>
<text class="c w" x="206.19" y="627.33">4.61</text>
<text class="c w" x="46.51" y="639.43">5.37</text>
<text class="c w" x="69.32" y="639.43">5.42</text>
<text class="c" x="92.13" y="639.43">6.22</text>
<text class="c" x="114.94" y="639.43">7.56</text>
<text class="c" x="137.76" y="639.43">7.48</text>
<text class="c" x="160.57" y="639.43">6.73</text>
<text class="c" x="183.38" y="639.43">6.17</text>
<text class="c" x="206.19" y="639.43">5.74</text>
<text class="c" x="46.51" y="651.52">6.96</text>
<text class="c" x="69.32" y="651.52">6.65</text>
<text class="c" x="92.13" y="651.52">6.91</text>
<text class="c" x="114.94" y="651.52">14.38</text>
<text class="c" x="137.76" y="651.52">12.35</text>
<text class="c" x="160.57" y="651.52">7.91</text>
<text class="c" x="183.38" y="651.52">6.10</text>
<text class="c" x="206.19" y="651.52">5.89</text>
<text class="c" x="46.51" y="663.62">5.96</text>
<text class="c" x="69.32" y="663.62">7.07</text>
<text class="c" x="92.13" y="663.62">7.95</text>
<text class="c" x="114.94" y="663.62">10.75</text>
<text class="c" x="137.76" y="663.62">10.80</text>
<text class="c" x="160.57" y="663.62">8.35</text>
<text class="c" x="206.19" y="663.62">6.80</text>
<text class="c" x="46.51" y="675.71">7.42</text>
<text class="c" x="69.32" y="675.71">6.65</text>
<text class="c" x="92.13" y="675.71">7.84</text>
<text class="c" x="114.94" y="675.71">8.70</text>
<text class="c" x="137.76" y="675.71">8.13</text>
<text class="c" x="160.57" y="675.71">8.15</text>
<text class="c" x="206.19" y="675.71">7.24</text>
<text class="c" x="69.32" y="687.8">6.40</text>
<text class="c" x="92.13" y="687.8">8.40</text>
<text class="c" x="114.94" y="687.8">8.54</text>
<text class="c" x="137.76" y="687.8">7.69</text>
<text class="c" x="160.57" y="687.8">7.44</text>
<text class="c" x="206.19" y="687.8">7.79</text>
<text class="t" text-anchor="end" x="31.3" y="603">8.25</text>
<text class="t" text-anchor="end" x="31.3" y="615.09">7.25</text>
<text class="t" text-anchor="end" x="31.3" y="627.18">6.25</text>
<text class="t" text-anchor="end" x="31.3" y="639.28">5.25</text>
<text class="t" text-anchor="end" x="31.3" y="651.37">4.25</text>
<text class="t" text-anchor="end" x="31.3" y="663.47">3.25</text>
<text class="t" text-anchor="end" x="31.3" y="675.56">2.25</text>
<text class="t" text-anchor="end" x="31.3" y="687.65">1.25</text>
<text class="t" text-anchor="middle" x="46.51" y="702.4">0.75</text>
<text class="t" text-anchor="middle" x="69.32" y="702.4">1.75</text>
<text class="t" text-anchor="middle" x="92.13" y="702.4">2.75</text>
<text class="t" text-anchor="middle" x="114.94" y="702.4">3.75</text>
<text class="t" text-anchor="middle" x="137.76" y="702.4">4.75</text>
<text class="t" text-anchor="middle" x="160.57" y="702.4">5.75</text>
<text class="t" text-anchor="middle" x="183.38" y="702.4">6.75</text>
<text class="t" text-anchor="middle" x="206.19" y="702.4">7.75</text>
<text class="lb" transform="translate(12.5 642.92) rotate(-90)">y-coordinate (m)</text>
<path d="M123.65 640.33L129.45 640.33L126.55 646.02Z" fill="#000"/>
<rect x="223.7" y="594.65" width="10.5" height="80.3" fill="url(#jet)" stroke="#000" stroke-opacity=".45" stroke-width=".5"/>
<text class="t" style="font-size:7px" x="237.7" y="678.05">0</text>
<text class="t" style="font-size:7px" x="237.7" y="656.75">5</text>
<text class="t" style="font-size:7px" x="237.7" y="635.45">10</text>
<text class="t" style="font-size:7px" x="237.7" y="614.15">15</text>
</g>
<g>
<text class="ti" x="428.6" y="590.35">Wood Panels, Source at S2</text>
<rect x="337.5" y="594.55" width="22.82" height="12.14" fill="#ffffff"/>
<rect x="360.27" y="594.55" width="22.82" height="12.14" fill="#008dff"/>
<rect x="383.05" y="594.55" width="22.82" height="12.14" fill="#0052ff"/>
<rect x="405.82" y="594.55" width="22.82" height="12.14" fill="#0062ff"/>
<rect x="428.6" y="594.55" width="22.82" height="12.14" fill="#005eff"/>
<rect x="451.38" y="594.55" width="22.82" height="12.14" fill="#00b1ff"/>
<rect x="474.15" y="594.55" width="22.82" height="12.14" fill="#0085ff"/>
<rect x="496.92" y="594.55" width="22.82" height="12.14" fill="#00b5ff"/>
<rect x="337.5" y="606.64" width="22.82" height="12.14" fill="#007aff"/>
<rect x="360.27" y="606.64" width="22.82" height="12.14" fill="#001eff"/>
<rect x="383.05" y="606.64" width="22.82" height="12.14" fill="#005aff"/>
<rect x="405.82" y="606.64" width="22.82" height="12.14" fill="#0042ff"/>
<rect x="428.6" y="606.64" width="22.82" height="12.14" fill="#0085ff"/>
<rect x="451.38" y="606.64" width="22.82" height="12.14" fill="#006eff"/>
<rect x="474.15" y="606.64" width="22.82" height="12.14" fill="#003eff"/>
<rect x="496.92" y="606.64" width="22.82" height="12.14" fill="#0085ff"/>
<rect x="337.5" y="618.74" width="22.82" height="12.14" fill="#008dff"/>
<rect x="360.27" y="618.74" width="22.82" height="12.14" fill="#0085ff"/>
<rect x="383.05" y="618.74" width="22.82" height="12.14" fill="#007aff"/>
<rect x="405.82" y="618.74" width="22.82" height="12.14" fill="#0095ff"/>
<rect x="428.6" y="618.74" width="22.82" height="12.14" fill="#006eff"/>
<rect x="451.38" y="618.74" width="22.82" height="12.14" fill="#006eff"/>
<rect x="474.15" y="618.74" width="22.82" height="12.14" fill="#0072ff"/>
<rect x="496.92" y="618.74" width="22.82" height="12.14" fill="#0056ff"/>
<rect x="337.5" y="630.83" width="22.82" height="12.14" fill="#006eff"/>
<rect x="360.27" y="630.83" width="22.82" height="12.14" fill="#0072ff"/>
<rect x="383.05" y="630.83" width="22.82" height="12.14" fill="#0095ff"/>
<rect x="405.82" y="630.83" width="22.82" height="12.14" fill="#00ddff"/>
<rect x="428.6" y="630.83" width="22.82" height="12.14" fill="#00edff"/>
<rect x="451.38" y="630.83" width="22.82" height="12.14" fill="#00c5ff"/>
<rect x="474.15" y="630.83" width="22.82" height="12.14" fill="#008dff"/>
<rect x="496.92" y="630.83" width="22.82" height="12.14" fill="#00a5ff"/>
<rect x="337.5" y="642.92" width="22.82" height="12.14" fill="#00c5ff"/>
<rect x="360.27" y="642.92" width="22.82" height="12.14" fill="#00bdff"/>
<rect x="383.05" y="642.92" width="22.82" height="12.14" fill="#00d9ff"/>
<rect x="405.82" y="642.92" width="22.82" height="12.14" fill="#ffe500"/>
<rect x="428.6" y="642.92" width="22.82" height="12.14" fill="#ffc900"/>
<rect x="451.38" y="642.92" width="22.82" height="12.14" fill="#00f9ff"/>
<rect x="474.15" y="642.92" width="22.82" height="12.14" fill="#00b5ff"/>
<rect x="496.92" y="642.92" width="22.82" height="12.14" fill="#00b9ff"/>
<rect x="337.5" y="655.02" width="22.82" height="12.14" fill="#0091ff"/>
<rect x="360.27" y="655.02" width="22.82" height="12.14" fill="#00bdff"/>
<rect x="383.05" y="655.02" width="22.82" height="12.14" fill="#0efff1"/>
<rect x="405.82" y="655.02" width="22.82" height="12.14" fill="#91ff6e"/>
<rect x="428.6" y="655.02" width="22.82" height="12.14" fill="#85ff7a"/>
<rect x="451.38" y="655.02" width="22.82" height="12.14" fill="#2effd1"/>
<rect x="474.15" y="655.02" width="22.82" height="12.14" fill="#ffffff"/>
<rect x="496.92" y="655.02" width="22.82" height="12.14" fill="#0081ff"/>
<rect x="337.5" y="667.11" width="22.82" height="12.14" fill="#00c9ff"/>
<rect x="360.27" y="667.11" width="22.82" height="12.14" fill="#00bdff"/>
<rect x="383.05" y="667.11" width="22.82" height="12.14" fill="#0afff5"/>
<rect x="405.82" y="667.11" width="22.82" height="12.14" fill="#2effd1"/>
<rect x="428.6" y="667.11" width="22.82" height="12.14" fill="#00f9ff"/>
<rect x="451.38" y="667.11" width="22.82" height="12.14" fill="#1affe5"/>
<rect x="474.15" y="667.11" width="22.82" height="12.14" fill="#ffffff"/>
<rect x="496.92" y="667.11" width="22.82" height="12.14" fill="#00d1ff"/>
<rect x="337.5" y="679.21" width="22.82" height="12.14" fill="#ffffff"/>
<rect x="360.27" y="679.21" width="22.82" height="12.14" fill="#00cdff"/>
<rect x="383.05" y="679.21" width="22.82" height="12.14" fill="#2effd1"/>
<rect x="405.82" y="679.21" width="22.82" height="12.14" fill="#00f5ff"/>
<rect x="428.6" y="679.21" width="22.82" height="12.14" fill="#00f9ff"/>
<rect x="451.38" y="679.21" width="22.82" height="12.14" fill="#00f5ff"/>
<rect x="474.15" y="679.21" width="22.82" height="12.14" fill="#ffffff"/>
<rect x="496.92" y="679.21" width="22.82" height="12.14" fill="#00e9ff"/>
<path class="g" d="M337.5 594.55V691.3M360.27 594.55V691.3M383.05 594.55V691.3M405.82 594.55V691.3M428.6 594.55V691.3M451.38 594.55V691.3M474.15 594.55V691.3M496.92 594.55V691.3M519.7 594.55V691.3M337.5 594.55H519.7M337.5 606.64H519.7M337.5 618.74H519.7M337.5 630.83H519.7M337.5 642.92H519.7M337.5 655.02H519.7M337.5 667.11H519.7M337.5 679.21H519.7M337.5 691.3H519.7"/>
<text class="c w" x="371.66" y="603.15">4.94</text>
<text class="c w" x="394.44" y="603.15">3.88</text>
<text class="c w" x="417.21" y="603.15">4.18</text>
<text class="c w" x="439.99" y="603.15">4.05</text>
<text class="c" x="462.76" y="603.15">5.62</text>
<text class="c w" x="485.54" y="603.15">4.79</text>
<text class="c" x="508.31" y="603.15">5.67</text>
<text class="c w" x="348.89" y="615.24">4.60</text>
<text class="c w" x="371.66" y="615.24">2.94</text>
<text class="c w" x="394.44" y="615.24">4.02</text>
<text class="c w" x="417.21" y="615.24">3.59</text>
<text class="c w" x="439.99" y="615.24">4.84</text>
<text class="c w" x="462.76" y="615.24">4.38</text>
<text class="c w" x="485.54" y="615.24">3.50</text>
<text class="c w" x="508.31" y="615.24">4.83</text>
<text class="c w" x="348.89" y="627.33">4.97</text>
<text class="c w" x="371.66" y="627.33">4.85</text>
<text class="c w" x="394.44" y="627.33">4.61</text>
<text class="c w" x="417.21" y="627.33">5.12</text>
<text class="c w" x="439.99" y="627.33">4.41</text>
<text class="c w" x="462.76" y="627.33">4.37</text>
<text class="c w" x="485.54" y="627.33">4.46</text>
<text class="c w" x="508.31" y="627.33">3.91</text>
<text class="c w" x="348.89" y="639.43">4.39</text>
<text class="c w" x="371.66" y="639.43">4.45</text>
<text class="c w" x="394.44" y="639.43">5.13</text>
<text class="c" x="417.21" y="639.43">6.46</text>
<text class="c" x="439.99" y="639.43">6.77</text>
<text class="c" x="462.76" y="639.43">5.97</text>
<text class="c w" x="485.54" y="639.43">4.94</text>
<text class="c w" x="508.31" y="639.43">5.41</text>
<text class="c" x="348.89" y="651.52">6.02</text>
<text class="c" x="371.66" y="651.52">5.86</text>
<text class="c" x="394.44" y="651.52">6.35</text>
<text class="c" x="417.21" y="651.52">12.27</text>
<text class="c" x="439.99" y="651.52">12.77</text>
<text class="c" x="462.76" y="651.52">6.99</text>
<text class="c" x="485.54" y="651.52">5.74</text>
<text class="c" x="508.31" y="651.52">5.76</text>
<text class="c w" x="348.89" y="663.62">5.05</text>
<text class="c" x="371.66" y="663.62">5.87</text>
<text class="c" x="394.44" y="663.62">7.34</text>
<text class="c" x="417.21" y="663.62">9.72</text>
<text class="c" x="439.99" y="663.62">9.50</text>
<text class="c" x="462.76" y="663.62">7.95</text>
<text class="c w" x="508.31" y="663.62">4.74</text>
<text class="c" x="348.89" y="675.71">6.08</text>
<text class="c" x="371.66" y="675.71">5.85</text>
<text class="c" x="394.44" y="675.71">7.22</text>
<text class="c" x="417.21" y="675.71">7.90</text>
<text class="c" x="439.99" y="675.71">6.95</text>
<text class="c" x="462.76" y="675.71">7.54</text>
<text class="c" x="508.31" y="675.71">6.19</text>
<text class="c" x="371.66" y="687.8">6.17</text>
<text class="c" x="394.44" y="687.8">7.89</text>
<text class="c" x="417.21" y="687.8">6.89</text>
<text class="c" x="439.99" y="687.8">6.96</text>
<text class="c" x="462.76" y="687.8">6.92</text>
<text class="c" x="508.31" y="687.8">6.63</text>
<text class="t" text-anchor="end" x="333.7" y="603">8.25</text>
<text class="t" text-anchor="end" x="333.7" y="615.09">7.25</text>
<text class="t" text-anchor="end" x="333.7" y="627.18">6.25</text>
<text class="t" text-anchor="end" x="333.7" y="639.28">5.25</text>
<text class="t" text-anchor="end" x="333.7" y="651.37">4.25</text>
<text class="t" text-anchor="end" x="333.7" y="663.47">3.25</text>
<text class="t" text-anchor="end" x="333.7" y="675.56">2.25</text>
<text class="t" text-anchor="end" x="333.7" y="687.65">1.25</text>
<text class="t" text-anchor="middle" x="348.89" y="702.4">0.75</text>
<text class="t" text-anchor="middle" x="371.66" y="702.4">1.75</text>
<text class="t" text-anchor="middle" x="394.44" y="702.4">2.75</text>
<text class="t" text-anchor="middle" x="417.21" y="702.4">3.75</text>
<text class="t" text-anchor="middle" x="439.99" y="702.4">4.75</text>
<text class="t" text-anchor="middle" x="462.76" y="702.4">5.75</text>
<text class="t" text-anchor="middle" x="485.54" y="702.4">6.75</text>
<text class="t" text-anchor="middle" x="508.31" y="702.4">7.75</text>
<text class="lb" transform="translate(314.9 642.92) rotate(-90)">y-coordinate (m)</text>
<path d="M425.9 640.33L431.7 640.33L428.8 646.02Z" fill="#000"/>
<rect x="525.8" y="594.65" width="10.5" height="80.3" fill="url(#jet)" stroke="#000" stroke-opacity=".45" stroke-width=".5"/>
<text class="t" style="font-size:7px" x="539.8" y="678.05">0</text>
<text class="t" style="font-size:7px" x="539.8" y="656.75">5</text>
<text class="t" style="font-size:7px" x="539.8" y="635.45">10</text>
<text class="t" style="font-size:7px" x="539.8" y="614.15">15</text>
</g>
<g>
<text class="ti" x="126.35" y="725.2">Felt Panels, Source at S3</text>
<rect x="35.1" y="729.4" width="22.86" height="12.14" fill="#ffffff"/>
<rect x="57.91" y="729.4" width="22.86" height="12.14" fill="#00c5ff"/>
<rect x="80.72" y="729.4" width="22.86" height="12.14" fill="#00e9ff"/>
<rect x="103.54" y="729.4" width="22.86" height="12.14" fill="#00e1ff"/>
<rect x="126.35" y="729.4" width="22.86" height="12.14" fill="#00cdff"/>
<rect x="149.16" y="729.4" width="22.86" height="12.14" fill="#00b1ff"/>
<rect x="171.97" y="729.4" width="22.86" height="12.14" fill="#00adff"/>
<rect x="194.79" y="729.4" width="22.86" height="12.14" fill="#00adff"/>
<rect x="35.1" y="741.49" width="22.86" height="12.14" fill="#00d9ff"/>
<rect x="57.91" y="741.49" width="22.86" height="12.14" fill="#00d1ff"/>
<rect x="80.72" y="741.49" width="22.86" height="12.14" fill="#00b5ff"/>
<rect x="103.54" y="741.49" width="22.86" height="12.14" fill="#009dff"/>
<rect x="126.35" y="741.49" width="22.86" height="12.14" fill="#00b1ff"/>
<rect x="149.16" y="741.49" width="22.86" height="12.14" fill="#00a5ff"/>
<rect x="171.97" y="741.49" width="22.86" height="12.14" fill="#0085ff"/>
<rect x="194.79" y="741.49" width="22.86" height="12.14" fill="#00f1ff"/>
<rect x="35.1" y="753.59" width="22.86" height="12.14" fill="#00c5ff"/>
<rect x="57.91" y="753.59" width="22.86" height="12.14" fill="#0efff1"/>
<rect x="80.72" y="753.59" width="22.86" height="12.14" fill="#00f1ff"/>
<rect x="103.54" y="753.59" width="22.86" height="12.14" fill="#00d5ff"/>
<rect x="126.35" y="753.59" width="22.86" height="12.14" fill="#008dff"/>
<rect x="149.16" y="753.59" width="22.86" height="12.14" fill="#00a1ff"/>
<rect x="171.97" y="753.59" width="22.86" height="12.14" fill="#00a9ff"/>
<rect x="194.79" y="753.59" width="22.86" height="12.14" fill="#0099ff"/>
<rect x="35.1" y="765.68" width="22.86" height="12.14" fill="#00f5ff"/>
<rect x="57.91" y="765.68" width="22.86" height="12.14" fill="#16ffe9"/>
<rect x="80.72" y="765.68" width="22.86" height="12.14" fill="#00c9ff"/>
<rect x="103.54" y="765.68" width="22.86" height="12.14" fill="#00edff"/>
<rect x="126.35" y="765.68" width="22.86" height="12.14" fill="#00e1ff"/>
<rect x="149.16" y="765.68" width="22.86" height="12.14" fill="#00d1ff"/>
<rect x="171.97" y="765.68" width="22.86" height="12.14" fill="#007aff"/>
<rect x="194.79" y="765.68" width="22.86" height="12.14" fill="#007aff"/>
<rect x="35.1" y="777.77" width="22.86" height="12.14" fill="#1affe5"/>
<rect x="57.91" y="777.77" width="22.86" height="12.14" fill="#2affd5"/>
<rect x="80.72" y="777.77" width="22.86" height="12.14" fill="#2effd1"/>
<rect x="103.54" y="777.77" width="22.86" height="12.14" fill="#16ffe9"/>
<rect x="126.35" y="777.77" width="22.86" height="12.14" fill="#16ffe9"/>
<rect x="149.16" y="777.77" width="22.86" height="12.14" fill="#1affe5"/>
<rect x="171.97" y="777.77" width="22.86" height="12.14" fill="#00b5ff"/>
<rect x="194.79" y="777.77" width="22.86" height="12.14" fill="#0081ff"/>
<rect x="35.1" y="789.87" width="22.86" height="12.14" fill="#26ffd9"/>
<rect x="57.91" y="789.87" width="22.86" height="12.14" fill="#4effb1"/>
<rect x="80.72" y="789.87" width="22.86" height="12.14" fill="#5effa1"/>
<rect x="103.54" y="789.87" width="22.86" height="12.14" fill="#5effa1"/>
<rect x="126.35" y="789.87" width="22.86" height="12.14" fill="#66ff99"/>
<rect x="149.16" y="789.87" width="22.86" height="12.14" fill="#56ffa9"/>
<rect x="171.97" y="789.87" width="22.86" height="12.14" fill="#ffffff"/>
<rect x="194.79" y="789.87" width="22.86" height="12.14" fill="#00b5ff"/>
<rect x="35.1" y="801.96" width="22.86" height="12.14" fill="#66ff99"/>
<rect x="57.91" y="801.96" width="22.86" height="12.14" fill="#36ffc9"/>
<rect x="80.72" y="801.96" width="22.86" height="12.14" fill="#3effc1"/>
<rect x="103.54" y="801.96" width="22.86" height="12.14" fill="#7aff85"/>
<rect x="126.35" y="801.96" width="22.86" height="12.14" fill="#ffe100"/>
<rect x="149.16" y="801.96" width="22.86" height="12.14" fill="#ffc500"/>
<rect x="171.97" y="801.96" width="22.86" height="12.14" fill="#ffffff"/>
<rect x="194.79" y="801.96" width="22.86" height="12.14" fill="#00ddff"/>
<rect x="35.1" y="814.06" width="22.86" height="12.14" fill="#ffffff"/>
<rect x="57.91" y="814.06" width="22.86" height="12.14" fill="#00edff"/>
<rect x="80.72" y="814.06" width="22.86" height="12.14" fill="#16ffe9"/>
<rect x="103.54" y="814.06" width="22.86" height="12.14" fill="#6aff95"/>
<rect x="126.35" y="814.06" width="22.86" height="12.14" fill="#62ff9d"/>
<rect x="149.16" y="814.06" width="22.86" height="12.14" fill="#7aff85"/>
<rect x="171.97" y="814.06" width="22.86" height="12.14" fill="#ffffff"/>
<rect x="194.79" y="814.06" width="22.86" height="12.14" fill="#00edff"/>
<path class="g" d="M35.1 729.4V826.15M57.91 729.4V826.15M80.72 729.4V826.15M103.54 729.4V826.15M126.35 729.4V826.15M149.16 729.4V826.15M171.97 729.4V826.15M194.79 729.4V826.15M217.6 729.4V826.15M35.1 729.4H217.6M35.1 741.49H217.6M35.1 753.59H217.6M35.1 765.68H217.6M35.1 777.77H217.6M35.1 789.87H217.6M35.1 801.96H217.6M35.1 814.06H217.6M35.1 826.15H217.6"/>
<text class="c" x="69.32" y="738">5.97</text>
<text class="c" x="92.13" y="738">6.67</text>
<text class="c" x="114.94" y="738">6.52</text>
<text class="c" x="137.76" y="738">6.17</text>
<text class="c" x="160.57" y="738">5.62</text>
<text class="c" x="183.38" y="738">5.56</text>
<text class="c" x="206.19" y="738">5.56</text>
<text class="c" x="46.51" y="750.09">6.39</text>
<text class="c" x="69.32" y="750.09">6.23</text>
<text class="c" x="92.13" y="750.09">5.74</text>
<text class="c w" x="114.94" y="750.09">5.30</text>
<text class="c" x="137.76" y="750.09">5.63</text>
<text class="c w" x="160.57" y="750.09">5.40</text>
<text class="c w" x="183.38" y="750.09">4.85</text>
<text class="c" x="206.19" y="750.09">6.82</text>
<text class="c" x="46.51" y="762.18">6.03</text>
<text class="c" x="69.32" y="762.18">7.31</text>
<text class="c" x="92.13" y="762.18">6.83</text>
<text class="c" x="114.94" y="762.18">6.26</text>
<text class="c w" x="137.76" y="762.18">4.99</text>
<text class="c w" x="160.57" y="762.18">5.36</text>
<text class="c w" x="183.38" y="762.18">5.45</text>
<text class="c w" x="206.19" y="762.18">5.17</text>
<text class="c" x="46.51" y="774.28">6.88</text>
<text class="c" x="69.32" y="774.28">7.47</text>
<text class="c" x="92.13" y="774.28">6.05</text>
<text class="c" x="114.94" y="774.28">6.77</text>
<text class="c" x="137.76" y="774.28">6.48</text>
<text class="c" x="160.57" y="774.28">6.19</text>
<text class="c w" x="183.38" y="774.28">4.59</text>
<text class="c w" x="206.19" y="774.28">4.61</text>
<text class="c" x="46.51" y="786.37">7.57</text>
<text class="c" x="69.32" y="786.37">7.83</text>
<text class="c" x="92.13" y="786.37">7.93</text>
<text class="c" x="114.94" y="786.37">7.47</text>
<text class="c" x="137.76" y="786.37">7.44</text>
<text class="c" x="160.57" y="786.37">7.58</text>
<text class="c" x="183.38" y="786.37">5.74</text>
<text class="c w" x="206.19" y="786.37">4.72</text>
<text class="c" x="46.51" y="798.47">7.79</text>
<text class="c" x="69.32" y="798.47">8.53</text>
<text class="c" x="92.13" y="798.47">8.78</text>
<text class="c" x="114.94" y="798.47">8.79</text>
<text class="c" x="137.76" y="798.47">8.94</text>
<text class="c" x="160.57" y="798.47">8.65</text>
<text class="c" x="206.19" y="798.47">5.67</text>
<text class="c" x="46.51" y="810.56">8.97</text>
<text class="c" x="69.32" y="810.56">8.08</text>
<text class="c" x="92.13" y="810.56">8.21</text>
<text class="c" x="114.94" y="810.56">9.34</text>
<text class="c" x="137.76" y="810.56">12.30</text>
<text class="c" x="160.57" y="810.56">12.84</text>
<text class="c" x="206.19" y="810.56">6.45</text>
<text class="c" x="69.32" y="822.65">6.76</text>
<text class="c" x="92.13" y="822.65">7.48</text>
<text class="c" x="114.94" y="822.65">9.05</text>
<text class="c" x="137.76" y="822.65">8.88</text>
<text class="c" x="160.57" y="822.65">9.33</text>
<text class="c" x="206.19" y="822.65">6.75</text>
<text class="t" text-anchor="end" x="31.3" y="737.85">8.25</text>
<text class="t" text-anchor="end" x="31.3" y="749.94">7.25</text>
<text class="t" text-anchor="end" x="31.3" y="762.03">6.25</text>
<text class="t" text-anchor="end" x="31.3" y="774.13">5.25</text>
<text class="t" text-anchor="end" x="31.3" y="786.22">4.25</text>
<text class="t" text-anchor="end" x="31.3" y="798.32">3.25</text>
<text class="t" text-anchor="end" x="31.3" y="810.41">2.25</text>
<text class="t" text-anchor="end" x="31.3" y="822.5">1.25</text>
<text class="t" text-anchor="middle" x="46.51" y="837.25">0.75</text>
<text class="t" text-anchor="middle" x="69.32" y="837.25">1.75</text>
<text class="t" text-anchor="middle" x="92.13" y="837.25">2.75</text>
<text class="t" text-anchor="middle" x="114.94" y="837.25">3.75</text>
<text class="t" text-anchor="middle" x="137.76" y="837.25">4.75</text>
<text class="t" text-anchor="middle" x="160.57" y="837.25">5.75</text>
<text class="t" text-anchor="middle" x="183.38" y="837.25">6.75</text>
<text class="t" text-anchor="middle" x="206.19" y="837.25">7.75</text>
<text class="lb" transform="translate(12.5 777.77) rotate(-90)">y-coordinate (m)</text>
<text class="lb" x="126.35" y="849.45">x-coordinate (m)</text>
<path d="M168.97 808.81L175.97 805.81L173.67 808.81L175.97 811.81Z" fill="#000"/>
<rect x="223.7" y="729.5" width="10.5" height="80.3" fill="url(#jet)" stroke="#000" stroke-opacity=".45" stroke-width=".5"/>
<text class="t" style="font-size:7px" x="237.7" y="812.9">0</text>
<text class="t" style="font-size:7px" x="237.7" y="791.6">5</text>
<text class="t" style="font-size:7px" x="237.7" y="770.3">10</text>
<text class="t" style="font-size:7px" x="237.7" y="749">15</text>
</g>
<g>
<text class="ti" x="428.6" y="725.5">Wood Panels, Source at S3</text>
<rect x="337.5" y="729.7" width="22.82" height="12.14" fill="#ffffff"/>
<rect x="360.27" y="729.7" width="22.82" height="12.14" fill="#0099ff"/>
<rect x="383.05" y="729.7" width="22.82" height="12.14" fill="#00d9ff"/>
<rect x="405.82" y="729.7" width="22.82" height="12.14" fill="#00e1ff"/>
<rect x="428.6" y="729.7" width="22.82" height="12.14" fill="#00a9ff"/>
<rect x="451.38" y="729.7" width="22.82" height="12.14" fill="#006aff"/>
<rect x="474.15" y="729.7" width="22.82" height="12.14" fill="#0089ff"/>
<rect x="496.92" y="729.7" width="22.82" height="12.14" fill="#0072ff"/>
<rect x="337.5" y="741.79" width="22.82" height="12.14" fill="#00b5ff"/>
<rect x="360.27" y="741.79" width="22.82" height="12.14" fill="#00b5ff"/>
<rect x="383.05" y="741.79" width="22.82" height="12.14" fill="#00a9ff"/>
<rect x="405.82" y="741.79" width="22.82" height="12.14" fill="#0081ff"/>
<rect x="428.6" y="741.79" width="22.82" height="12.14" fill="#0085ff"/>
<rect x="451.38" y="741.79" width="22.82" height="12.14" fill="#0099ff"/>
<rect x="474.15" y="741.79" width="22.82" height="12.14" fill="#0089ff"/>
<rect x="496.92" y="741.79" width="22.82" height="12.14" fill="#00b5ff"/>
<rect x="337.5" y="753.89" width="22.82" height="12.14" fill="#0099ff"/>
<rect x="360.27" y="753.89" width="22.82" height="12.14" fill="#00d1ff"/>
<rect x="383.05" y="753.89" width="22.82" height="12.14" fill="#00a5ff"/>
<rect x="405.82" y="753.89" width="22.82" height="12.14" fill="#00c9ff"/>
<rect x="428.6" y="753.89" width="22.82" height="12.14" fill="#0076ff"/>
<rect x="451.38" y="753.89" width="22.82" height="12.14" fill="#00a1ff"/>
<rect x="474.15" y="753.89" width="22.82" height="12.14" fill="#0066ff"/>
<rect x="496.92" y="753.89" width="22.82" height="12.14" fill="#005eff"/>
<rect x="337.5" y="765.98" width="22.82" height="12.14" fill="#00c5ff"/>
<rect x="360.27" y="765.98" width="22.82" height="12.14" fill="#00e1ff"/>
<rect x="383.05" y="765.98" width="22.82" height="12.14" fill="#0095ff"/>
<rect x="405.82" y="765.98" width="22.82" height="12.14" fill="#00bdff"/>
<rect x="428.6" y="765.98" width="22.82" height="12.14" fill="#0099ff"/>
<rect x="451.38" y="765.98" width="22.82" height="12.14" fill="#009dff"/>
<rect x="474.15" y="765.98" width="22.82" height="12.14" fill="#0089ff"/>
<rect x="496.92" y="765.98" width="22.82" height="12.14" fill="#0072ff"/>
<rect x="337.5" y="778.08" width="22.82" height="12.14" fill="#00c9ff"/>
<rect x="360.27" y="778.08" width="22.82" height="12.14" fill="#06fff9"/>
<rect x="383.05" y="778.08" width="22.82" height="12.14" fill="#1affe5"/>
<rect x="405.82" y="778.08" width="22.82" height="12.14" fill="#00d5ff"/>
<rect x="428.6" y="778.08" width="22.82" height="12.14" fill="#00d1ff"/>
<rect x="451.38" y="778.08" width="22.82" height="12.14" fill="#00d1ff"/>
<rect x="474.15" y="778.08" width="22.82" height="12.14" fill="#0095ff"/>
<rect x="496.92" y="778.08" width="22.82" height="12.14" fill="#005eff"/>
<rect x="337.5" y="790.17" width="22.82" height="12.14" fill="#00d5ff"/>
<rect x="360.27" y="790.17" width="22.82" height="12.14" fill="#06fff9"/>
<rect x="383.05" y="790.17" width="22.82" height="12.14" fill="#2affd5"/>
<rect x="405.82" y="790.17" width="22.82" height="12.14" fill="#12ffed"/>
<rect x="428.6" y="790.17" width="22.82" height="12.14" fill="#32ffcd"/>
<rect x="451.38" y="790.17" width="22.82" height="12.14" fill="#00fdff"/>
<rect x="474.15" y="790.17" width="22.82" height="12.14" fill="#ffffff"/>
<rect x="496.92" y="790.17" width="22.82" height="12.14" fill="#0099ff"/>
<rect x="337.5" y="802.26" width="22.82" height="12.14" fill="#00c9ff"/>
<rect x="360.27" y="802.26" width="22.82" height="12.14" fill="#00cdff"/>
<rect x="383.05" y="802.26" width="22.82" height="12.14" fill="#02fffd"/>
<rect x="405.82" y="802.26" width="22.82" height="12.14" fill="#4affb5"/>
<rect x="428.6" y="802.26" width="22.82" height="12.14" fill="#d9ff26"/>
<rect x="451.38" y="802.26" width="22.82" height="12.14" fill="#f5ff0a"/>
<rect x="474.15" y="802.26" width="22.82" height="12.14" fill="#ffffff"/>
<rect x="496.92" y="802.26" width="22.82" height="12.14" fill="#00a1ff"/>
<rect x="337.5" y="814.36" width="22.82" height="12.14" fill="#ffffff"/>
<rect x="360.27" y="814.36" width="22.82" height="12.14" fill="#00e5ff"/>
<rect x="383.05" y="814.36" width="22.82" height="12.14" fill="#00ddff"/>
<rect x="405.82" y="814.36" width="22.82" height="12.14" fill="#22ffdd"/>
<rect x="428.6" y="814.36" width="22.82" height="12.14" fill="#46ffb9"/>
<rect x="451.38" y="814.36" width="22.82" height="12.14" fill="#46ffb9"/>
<rect x="474.15" y="814.36" width="22.82" height="12.14" fill="#ffffff"/>
<rect x="496.92" y="814.36" width="22.82" height="12.14" fill="#00b1ff"/>
<path class="g" d="M337.5 729.7V826.45M360.27 729.7V826.45M383.05 729.7V826.45M405.82 729.7V826.45M428.6 729.7V826.45M451.38 729.7V826.45M474.15 729.7V826.45M496.92 729.7V826.45M519.7 729.7V826.45M337.5 729.7H519.7M337.5 741.79H519.7M337.5 753.89H519.7M337.5 765.98H519.7M337.5 778.08H519.7M337.5 790.17H519.7M337.5 802.26H519.7M337.5 814.36H519.7M337.5 826.45H519.7"/>
<text class="c w" x="371.66" y="738.3">5.16</text>
<text class="c" x="394.44" y="738.3">6.38</text>
<text class="c" x="417.21" y="738.3">6.48</text>
<text class="c w" x="439.99" y="738.3">5.45</text>
<text class="c w" x="462.76" y="738.3">4.33</text>
<text class="c w" x="485.54" y="738.3">4.93</text>
<text class="c w" x="508.31" y="738.3">4.42</text>
<text class="c" x="348.89" y="750.39">5.70</text>
<text class="c" x="371.66" y="750.39">5.70</text>
<text class="c w" x="394.44" y="750.39">5.45</text>
<text class="c w" x="417.21" y="750.39">4.72</text>
<text class="c w" x="439.99" y="750.39">4.79</text>
<text class="c w" x="462.76" y="750.39">5.21</text>
<text class="c w" x="485.54" y="750.39">4.88</text>
<text class="c" x="508.31" y="750.39">5.70</text>
<text class="c w" x="348.89" y="762.48">5.21</text>
<text class="c" x="371.66" y="762.48">6.22</text>
<text class="c w" x="394.44" y="762.48">5.39</text>
<text class="c" x="417.21" y="762.48">6.09</text>
<text class="c w" x="439.99" y="762.48">4.52</text>
<text class="c w" x="462.76" y="762.48">5.36</text>
<text class="c w" x="485.54" y="762.48">4.23</text>
<text class="c w" x="508.31" y="762.48">4.05</text>
<text class="c" x="348.89" y="774.58">6.02</text>
<text class="c" x="371.66" y="774.58">6.49</text>
<text class="c w" x="394.44" y="774.58">5.12</text>
<text class="c" x="417.21" y="774.58">5.85</text>
<text class="c w" x="439.99" y="774.58">5.16</text>
<text class="c w" x="462.76" y="774.58">5.23</text>
<text class="c w" x="485.54" y="774.58">4.89</text>
<text class="c w" x="508.31" y="774.58">4.45</text>
<text class="c" x="348.89" y="786.67">6.11</text>
<text class="c" x="371.66" y="786.67">7.19</text>
<text class="c" x="394.44" y="786.67">7.56</text>
<text class="c" x="417.21" y="786.67">6.26</text>
<text class="c" x="439.99" y="786.67">6.20</text>
<text class="c" x="462.76" y="786.67">6.21</text>
<text class="c w" x="485.54" y="786.67">5.15</text>
<text class="c w" x="508.31" y="786.67">4.11</text>
<text class="c" x="348.89" y="798.77">6.33</text>
<text class="c" x="371.66" y="798.77">7.21</text>
<text class="c" x="394.44" y="798.77">7.82</text>
<text class="c" x="417.21" y="798.77">7.39</text>
<text class="c" x="439.99" y="798.77">7.98</text>
<text class="c" x="462.76" y="798.77">7.02</text>
<text class="c w" x="508.31" y="798.77">5.20</text>
<text class="c" x="348.89" y="810.86">6.10</text>
<text class="c" x="371.66" y="810.86">6.17</text>
<text class="c" x="394.44" y="810.86">7.12</text>
<text class="c" x="417.21" y="810.86">8.40</text>
<text class="c" x="439.99" y="810.86">11.07</text>
<text class="c" x="462.76" y="810.86">11.58</text>
<text class="c w" x="508.31" y="810.86">5.31</text>
<text class="c" x="371.66" y="822.95">6.59</text>
<text class="c" x="394.44" y="822.95">6.46</text>
<text class="c" x="417.21" y="822.95">7.68</text>
<text class="c" x="439.99" y="822.95">8.34</text>
<text class="c" x="462.76" y="822.95">8.36</text>
<text class="c" x="508.31" y="822.95">5.66</text>
<text class="t" text-anchor="end" x="333.7" y="738.15">8.25</text>
<text class="t" text-anchor="end" x="333.7" y="750.24">7.25</text>
<text class="t" text-anchor="end" x="333.7" y="762.33">6.25</text>
<text class="t" text-anchor="end" x="333.7" y="774.43">5.25</text>
<text class="t" text-anchor="end" x="333.7" y="786.52">4.25</text>
<text class="t" text-anchor="end" x="333.7" y="798.62">3.25</text>
<text class="t" text-anchor="end" x="333.7" y="810.71">2.25</text>
<text class="t" text-anchor="end" x="333.7" y="822.8">1.25</text>
<text class="t" text-anchor="middle" x="348.89" y="837.55">0.75</text>
<text class="t" text-anchor="middle" x="371.66" y="837.55">1.75</text>
<text class="t" text-anchor="middle" x="394.44" y="837.55">2.75</text>
<text class="t" text-anchor="middle" x="417.21" y="837.55">3.75</text>
<text class="t" text-anchor="middle" x="439.99" y="837.55">4.75</text>
<text class="t" text-anchor="middle" x="462.76" y="837.55">5.75</text>
<text class="t" text-anchor="middle" x="485.54" y="837.55">6.75</text>
<text class="t" text-anchor="middle" x="508.31" y="837.55">7.75</text>
<text class="lb" transform="translate(314.9 778.08) rotate(-90)">y-coordinate (m)</text>
<text class="lb" x="428.6" y="849.75">x-coordinate (m)</text>
<path d="M471.15 809.11L478.15 806.11L475.85 809.11L478.15 812.11Z" fill="#000"/>
<rect x="525.8" y="729.8" width="10.5" height="80.3" fill="url(#jet)" stroke="#000" stroke-opacity=".45" stroke-width=".5"/>
<text class="t" style="font-size:7px" x="539.8" y="813.2">0</text>
<text class="t" style="font-size:7px" x="539.8" y="791.9">5</text>
<text class="t" style="font-size:7px" x="539.8" y="770.6">10</text>
<text class="t" style="font-size:7px" x="539.8" y="749.3">15</text>
</g>
<text class="cap" x="271.2" y="432">(a)</text>
<text class="cap" x="272.8" y="877.1">(b)</text>
</svg></body></html>
